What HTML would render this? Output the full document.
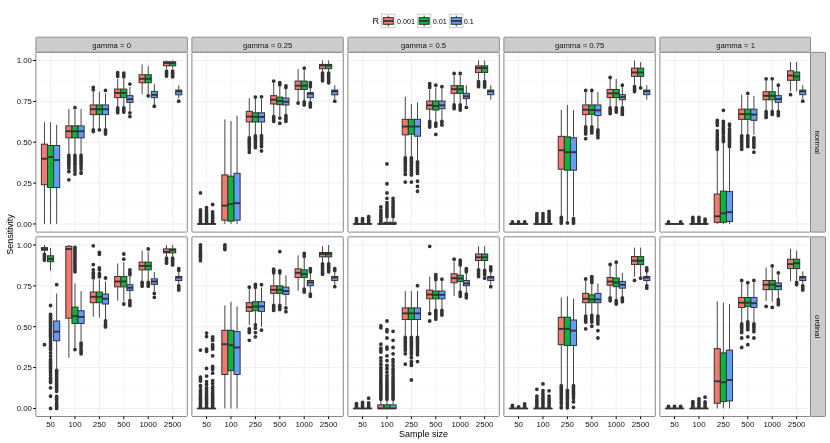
<!DOCTYPE html>
<html><head><meta charset="utf-8"><title>Sensitivity by sample size</title>
<style>html,body{margin:0;padding:0;background:#fff}svg{display:block}</style></head>
<body>
<svg width="830" height="443" viewBox="0 0 830 443" font-family="Liberation Sans, Arial, sans-serif">
<rect width="830" height="443" fill="#fff"/>
<g id="legend">
<text x="372.6" y="24.2" font-size="9" fill="#000">R</text>
<rect x="381.54999999999995" y="14.25" width="13.4" height="13.4" fill="#fff" stroke="#ccc" stroke-width="1"/>
<path d="M388.25 15.59V26.31" stroke="#333333" stroke-width="1" fill="none"/>
<rect x="383.22" y="17.6" width="10.05" height="6.7" fill="#F8766D" stroke="#333333" stroke-width="1"/>
<path d="M383.22 20.95H393.27" stroke="#333333" stroke-width="1.7" fill="none"/>
<text x="397.0" y="23.6" font-size="7.2" fill="#000">0.001</text>
<rect x="417.45" y="14.25" width="13.4" height="13.4" fill="#fff" stroke="#ccc" stroke-width="1"/>
<path d="M424.15 15.59V26.31" stroke="#333333" stroke-width="1" fill="none"/>
<rect x="419.12" y="17.6" width="10.05" height="6.7" fill="#00BA38" stroke="#333333" stroke-width="1"/>
<path d="M419.12 20.95H429.18" stroke="#333333" stroke-width="1.7" fill="none"/>
<text x="432.7" y="23.6" font-size="7.2" fill="#000">0.01</text>
<rect x="449.54999999999995" y="14.25" width="13.4" height="13.4" fill="#fff" stroke="#ccc" stroke-width="1"/>
<path d="M456.25 15.59V26.31" stroke="#333333" stroke-width="1" fill="none"/>
<rect x="451.22" y="17.6" width="10.05" height="6.7" fill="#619CFF" stroke="#333333" stroke-width="1"/>
<path d="M451.22 20.95H461.27" stroke="#333333" stroke-width="1.7" fill="none"/>
<text x="463.8" y="23.6" font-size="7.2" fill="#000">0.1</text>
</g>
<rect x="35.9" y="37.2" width="151.4" height="15.15" fill="#ccc" stroke="#8c8c8c" stroke-width="1" rx="0.8"/>
<text x="111.6" y="47.68" font-size="7.7" text-anchor="middle" fill="#111">gamma = 0</text>
<rect x="191.9" y="37.2" width="151.4" height="15.15" fill="#ccc" stroke="#8c8c8c" stroke-width="1" rx="0.8"/>
<text x="267.6" y="47.68" font-size="7.7" text-anchor="middle" fill="#111">gamma = 0.25</text>
<rect x="347.9" y="37.2" width="151.4" height="15.15" fill="#ccc" stroke="#8c8c8c" stroke-width="1" rx="0.8"/>
<text x="423.6" y="47.68" font-size="7.7" text-anchor="middle" fill="#111">gamma = 0.5</text>
<rect x="503.9" y="37.2" width="151.4" height="15.15" fill="#ccc" stroke="#8c8c8c" stroke-width="1" rx="0.8"/>
<text x="579.6" y="47.68" font-size="7.7" text-anchor="middle" fill="#111">gamma = 0.75</text>
<rect x="659.9" y="37.2" width="150.6" height="15.15" fill="#ccc" stroke="#8c8c8c" stroke-width="1" rx="0.8"/>
<text x="735.6" y="47.68" font-size="7.7" text-anchor="middle" fill="#111">gamma = 1</text>
<rect x="810.5" y="52.35" width="15" height="179.75" fill="#ccc" stroke="#8c8c8c" stroke-width="1" rx="0.8"/>
<text transform="translate(815 142.22) rotate(90)" font-size="7.7" text-anchor="middle" fill="#111">normal</text>
<rect x="810.5" y="236.8" width="15" height="179.7" fill="#ccc" stroke="#8c8c8c" stroke-width="1" rx="0.8"/>
<text transform="translate(815 326.65) rotate(90)" font-size="7.7" text-anchor="middle" fill="#111">ordinal</text>
<g>
<rect x="35.9" y="52.35" width="151.4" height="179.75" fill="#fff"/>
<path d="M35.9 203.52H187.3M35.9 162.66H187.3M35.9 121.79H187.3M35.9 80.93H187.3" stroke="#f7f7f7" stroke-width="0.6" fill="none"/>
<path d="M35.9 223.95H187.3M35.9 183.09H187.3M35.9 142.22H187.3M35.9 101.36H187.3M35.9 60.5H187.3M50.55 52.35V232.1M74.97 52.35V232.1M99.39 52.35V232.1M123.81 52.35V232.1M148.23 52.35V232.1M172.65 52.35V232.1" stroke="#e8e8e8" stroke-width="0.6" fill="none"/>
<path d="M44.45 122.28V144.19M44.45 184.72V223.95" stroke="#3c3c3c" stroke-width="0.95" fill="none"/>
<rect x="41.39" y="144.19" width="6.1" height="40.54" fill="#F8766D" stroke="#333333" stroke-width="1"/>
<path d="M41.39 158.73H47.5" stroke="#333333" stroke-width="1.9" fill="none"/>
<path d="M50.55 122.28V145.49M50.55 187.5V223.95" stroke="#3c3c3c" stroke-width="0.95" fill="none"/>
<rect x="47.5" y="145.49" width="6.1" height="42.01" fill="#00BA38" stroke="#333333" stroke-width="1"/>
<path d="M47.5 157.1H53.6" stroke="#333333" stroke-width="1.9" fill="none"/>
<path d="M56.66 124.74V145.49M56.66 187.5V223.95" stroke="#3c3c3c" stroke-width="0.95" fill="none"/>
<rect x="53.6" y="145.49" width="6.1" height="42.01" fill="#619CFF" stroke="#333333" stroke-width="1"/>
<path d="M53.6 160.04H59.71" stroke="#333333" stroke-width="1.9" fill="none"/>
<path d="M68.87 155.3h0M68.87 156.28h0M68.87 157.26h0M68.87 158.24h0M68.87 159.22h0M68.87 160.2h0M68.87 161.19h0M68.87 162.17h0M68.87 163.15h0M68.87 164.13h0M68.87 166.09h0M68.87 168.05h0M68.87 171.32h0M68.87 171.65h0M68.87 179.82h0" stroke="#333333" stroke-width="3.8" stroke-linecap="round" fill="none"/>
<path d="M68.87 108.88V125.88M68.87 137.81V154.16" stroke="#3c3c3c" stroke-width="0.95" fill="none"/>
<rect x="65.81" y="125.88" width="6.1" height="11.93" fill="#F8766D" stroke="#333333" stroke-width="1"/>
<path d="M65.81 131.27H71.92" stroke="#333333" stroke-width="1.9" fill="none"/>
<path d="M74.97 107.57h0M74.97 155.3h0M74.97 156.28h0M74.97 157.26h0M74.97 158.24h0M74.97 159.22h0M74.97 160.2h0M74.97 161.19h0M74.97 162.17h0M74.97 163.15h0M74.97 164.13h0M74.97 165.11h0M74.97 167.07h0M74.97 169.03h0M74.97 170.99h0M74.97 174.1h0" stroke="#333333" stroke-width="3.8" stroke-linecap="round" fill="none"/>
<path d="M74.97 109.54V125.88M74.97 137.81V154.16" stroke="#3c3c3c" stroke-width="0.95" fill="none"/>
<rect x="71.92" y="125.88" width="6.1" height="11.93" fill="#00BA38" stroke="#333333" stroke-width="1"/>
<path d="M71.92 131.27H78.02" stroke="#333333" stroke-width="1.9" fill="none"/>
<path d="M81.08 155.3h0M81.08 156.28h0M81.08 157.26h0M81.08 158.24h0M81.08 159.22h0M81.08 160.2h0M81.08 161.19h0M81.08 162.17h0M81.08 163.15h0M81.08 164.13h0M81.08 165.11h0M81.08 167.07h0M81.08 169.03h0M81.08 172.3h0M81.08 173.28h0" stroke="#333333" stroke-width="3.8" stroke-linecap="round" fill="none"/>
<path d="M81.08 108.88V125.88M81.08 137.81V154.16" stroke="#3c3c3c" stroke-width="0.95" fill="none"/>
<rect x="78.02" y="125.88" width="6.1" height="11.93" fill="#619CFF" stroke="#333333" stroke-width="1"/>
<path d="M78.02 131.27H84.13" stroke="#333333" stroke-width="1.9" fill="none"/>
<path d="M93.29 87.31h0M93.29 89.76h0M93.29 129.97h0M93.29 131.27h0M93.29 131.6h0" stroke="#333333" stroke-width="3.8" stroke-linecap="round" fill="none"/>
<path d="M93.29 91.56V104.96M93.29 114.6V128.33" stroke="#3c3c3c" stroke-width="0.95" fill="none"/>
<rect x="90.23" y="104.96" width="6.1" height="9.64" fill="#F8766D" stroke="#333333" stroke-width="1"/>
<path d="M90.23 109.21H96.34" stroke="#333333" stroke-width="1.9" fill="none"/>
<path d="M99.39 129.97h0" stroke="#333333" stroke-width="3.8" stroke-linecap="round" fill="none"/>
<path d="M99.39 92.05V104.96M99.39 114.6V128.33" stroke="#3c3c3c" stroke-width="0.95" fill="none"/>
<rect x="96.34" y="104.96" width="6.1" height="9.64" fill="#00BA38" stroke="#333333" stroke-width="1"/>
<path d="M96.34 109.21H102.44" stroke="#333333" stroke-width="1.9" fill="none"/>
<path d="M105.5 90.41h0M105.5 129.97h0M105.5 131.27h0M105.5 132.58h0M105.5 133.89h0M105.5 134.05h0" stroke="#333333" stroke-width="3.8" stroke-linecap="round" fill="none"/>
<path d="M105.5 93.19V104.96M105.5 114.6V128.33" stroke="#3c3c3c" stroke-width="0.95" fill="none"/>
<rect x="102.44" y="104.96" width="6.1" height="9.64" fill="#619CFF" stroke="#333333" stroke-width="1"/>
<path d="M102.44 109.21H108.55" stroke="#333333" stroke-width="1.9" fill="none"/>
<path d="M117.7 76.35h0M117.7 74.39h0M117.7 72.6h0M117.7 107.9h0M117.7 109.21h0M117.7 110.52h0M117.7 111.82h0M117.7 112.64h0" stroke="#333333" stroke-width="3.8" stroke-linecap="round" fill="none"/>
<path d="M117.7 78.81V89.1M117.7 97.6V106.76" stroke="#3c3c3c" stroke-width="0.95" fill="none"/>
<rect x="114.65" y="89.1" width="6.1" height="8.5" fill="#F8766D" stroke="#333333" stroke-width="1"/>
<path d="M114.65 92.86H120.76" stroke="#333333" stroke-width="1.9" fill="none"/>
<path d="M123.81 76.84h0M123.81 74.88h0M123.81 73.25h0M123.81 107.9h0M123.81 109.21h0M123.81 110.52h0M123.81 111.82h0M123.81 111.99h0" stroke="#333333" stroke-width="3.8" stroke-linecap="round" fill="none"/>
<path d="M123.81 78.81V89.1M123.81 97.6V106.76" stroke="#3c3c3c" stroke-width="0.95" fill="none"/>
<rect x="120.76" y="89.1" width="6.1" height="8.5" fill="#00BA38" stroke="#333333" stroke-width="1"/>
<path d="M120.76 92.86H126.86" stroke="#333333" stroke-width="1.9" fill="none"/>
<path d="M129.91 84.04h0M129.91 112.8h0M129.91 116.56h0" stroke="#333333" stroke-width="3.8" stroke-linecap="round" fill="none"/>
<path d="M129.91 86.98V95.64M129.91 102.51V110.68" stroke="#3c3c3c" stroke-width="0.95" fill="none"/>
<rect x="126.86" y="95.64" width="6.1" height="6.86" fill="#619CFF" stroke="#333333" stroke-width="1"/>
<path d="M126.86 99.24H132.97" stroke="#333333" stroke-width="1.9" fill="none"/>
<path d="M142.12 64.42V74.72M142.12 82.73V94.33" stroke="#3c3c3c" stroke-width="0.95" fill="none"/>
<rect x="139.07" y="74.72" width="6.1" height="8.01" fill="#F8766D" stroke="#333333" stroke-width="1"/>
<path d="M139.07 78.81H145.18" stroke="#333333" stroke-width="1.9" fill="none"/>
<path d="M148.23 95.81h0" stroke="#333333" stroke-width="3.8" stroke-linecap="round" fill="none"/>
<path d="M148.23 66.22V74.72M148.23 82.73V94.82" stroke="#3c3c3c" stroke-width="0.95" fill="none"/>
<rect x="145.18" y="74.72" width="6.1" height="8.01" fill="#00BA38" stroke="#333333" stroke-width="1"/>
<path d="M145.18 78.81H151.28" stroke="#333333" stroke-width="1.9" fill="none"/>
<path d="M154.33 106.27h0" stroke="#333333" stroke-width="3.8" stroke-linecap="round" fill="none"/>
<path d="M154.33 84.2V91.39M154.33 97.6V104.96" stroke="#3c3c3c" stroke-width="0.95" fill="none"/>
<rect x="151.28" y="91.39" width="6.1" height="6.21" fill="#619CFF" stroke="#333333" stroke-width="1"/>
<path d="M151.28 94.82H157.39" stroke="#333333" stroke-width="1.9" fill="none"/>
<path d="M166.54 71.12h0M166.54 72.43h0M166.54 73.74h0M166.54 75.05h0M166.54 76.03h0" stroke="#333333" stroke-width="3.8" stroke-linecap="round" fill="none"/>
<path d="M166.54 60.5V61.81M166.54 65.73V68.67" stroke="#3c3c3c" stroke-width="0.95" fill="none"/>
<rect x="163.49" y="61.81" width="6.1" height="3.92" fill="#F8766D" stroke="#333333" stroke-width="1"/>
<path d="M163.49 62.95H169.6" stroke="#333333" stroke-width="1.9" fill="none"/>
<path d="M172.65 71.12h0M172.65 72.43h0M172.65 73.74h0M172.65 75.05h0M172.65 76.35h0M172.65 76.84h0" stroke="#333333" stroke-width="3.8" stroke-linecap="round" fill="none"/>
<path d="M172.65 60.5V61.81M172.65 65.73V68.67" stroke="#3c3c3c" stroke-width="0.95" fill="none"/>
<rect x="169.6" y="61.81" width="6.1" height="3.92" fill="#00BA38" stroke="#333333" stroke-width="1"/>
<path d="M169.6 62.95H175.7" stroke="#333333" stroke-width="1.9" fill="none"/>
<path d="M178.75 101.2h0" stroke="#333333" stroke-width="3.8" stroke-linecap="round" fill="none"/>
<path d="M178.75 85.18V90.08M178.75 94.82V98.42" stroke="#3c3c3c" stroke-width="0.95" fill="none"/>
<rect x="175.7" y="90.08" width="6.1" height="4.74" fill="#619CFF" stroke="#333333" stroke-width="1"/>
<path d="M175.7 91.31H181.81" stroke="#333333" stroke-width="1.9" fill="none"/>
<rect x="35.9" y="52.35" width="151.4" height="179.75" fill="none" stroke="#888" stroke-width="1" rx="0.8"/>
</g>
<g>
<rect x="191.9" y="52.35" width="151.4" height="179.75" fill="#fff"/>
<path d="M191.9 203.52H343.3M191.9 162.66H343.3M191.9 121.79H343.3M191.9 80.93H343.3" stroke="#f7f7f7" stroke-width="0.6" fill="none"/>
<path d="M191.9 223.95H343.3M191.9 183.09H343.3M191.9 142.22H343.3M191.9 101.36H343.3M191.9 60.5H343.3M206.55 52.35V232.1M230.97 52.35V232.1M255.39 52.35V232.1M279.81 52.35V232.1M304.23 52.35V232.1M328.65 52.35V232.1" stroke="#e8e8e8" stroke-width="0.6" fill="none"/>
<path d="M200.45 221.99h0M200.45 221.01h0M200.45 220.03h0M200.45 219.05h0M200.45 218.07h0M200.45 217.09h0M200.45 216.1h0M200.45 215.12h0M200.45 213.16h0M200.45 211.2h0M200.45 209.89h0M200.45 192.89h0" stroke="#333333" stroke-width="3.8" stroke-linecap="round" fill="none"/>
<path d="M200.45 223.95V223.95M200.45 223.95V223.95" stroke="#3c3c3c" stroke-width="0.95" fill="none"/>
<rect x="197.39" y="223.95" width="6.1" height="0.01" fill="#F8766D" stroke="#333333" stroke-width="1"/>
<path d="M197.39 223.95H203.5" stroke="#333333" stroke-width="1.9" fill="none"/>
<path d="M206.55 221.99h0M206.55 221.01h0M206.55 220.03h0M206.55 219.05h0M206.55 218.07h0M206.55 217.09h0M206.55 216.1h0M206.55 215.12h0M206.55 214.14h0M206.55 212.18h0M206.55 210.22h0M206.55 207.6h0" stroke="#333333" stroke-width="3.8" stroke-linecap="round" fill="none"/>
<path d="M206.55 223.95V223.95M206.55 223.95V223.95" stroke="#3c3c3c" stroke-width="0.95" fill="none"/>
<rect x="203.5" y="223.95" width="6.1" height="0.01" fill="#00BA38" stroke="#333333" stroke-width="1"/>
<path d="M203.5 223.95H209.6" stroke="#333333" stroke-width="1.9" fill="none"/>
<path d="M212.66 221.99h0M212.66 221.01h0M212.66 220.03h0M212.66 219.05h0M212.66 218.07h0M212.66 217.09h0M212.66 216.1h0M212.66 214.14h0M212.66 211.85h0M212.66 204.5h0" stroke="#333333" stroke-width="3.8" stroke-linecap="round" fill="none"/>
<path d="M212.66 223.95V223.95M212.66 223.95V223.95" stroke="#3c3c3c" stroke-width="0.95" fill="none"/>
<rect x="209.6" y="223.95" width="6.1" height="0.01" fill="#619CFF" stroke="#333333" stroke-width="1"/>
<path d="M209.6 223.95H215.71" stroke="#333333" stroke-width="1.9" fill="none"/>
<path d="M224.87 119.34V174.91M224.87 220.19V223.95" stroke="#3c3c3c" stroke-width="0.95" fill="none"/>
<rect x="221.81" y="174.91" width="6.1" height="45.28" fill="#F8766D" stroke="#333333" stroke-width="1"/>
<path d="M221.81 205.64H227.92" stroke="#333333" stroke-width="1.9" fill="none"/>
<path d="M230.97 120.98V176.22M230.97 221.17V223.95" stroke="#3c3c3c" stroke-width="0.95" fill="none"/>
<rect x="227.92" y="176.22" width="6.1" height="44.95" fill="#00BA38" stroke="#333333" stroke-width="1"/>
<path d="M227.92 204.17H234.02" stroke="#333333" stroke-width="1.9" fill="none"/>
<path d="M237.08 115.58V173.28M237.08 220.19V223.95" stroke="#3c3c3c" stroke-width="0.95" fill="none"/>
<rect x="234.02" y="173.28" width="6.1" height="46.91" fill="#619CFF" stroke="#333333" stroke-width="1"/>
<path d="M234.02 203.19H240.13" stroke="#333333" stroke-width="1.9" fill="none"/>
<path d="M249.29 137.81h0M249.29 138.79h0M249.29 139.77h0M249.29 140.75h0M249.29 141.73h0M249.29 142.72h0M249.29 143.7h0M249.29 144.68h0M249.29 145.66h0M249.29 147.62h0M249.29 149.58h0M249.29 152.36h0" stroke="#333333" stroke-width="3.8" stroke-linecap="round" fill="none"/>
<path d="M249.29 98.09V111.33M249.29 121.96V136.91" stroke="#3c3c3c" stroke-width="0.95" fill="none"/>
<rect x="246.23" y="111.33" width="6.1" height="10.62" fill="#F8766D" stroke="#333333" stroke-width="1"/>
<path d="M246.23 116.56H252.34" stroke="#333333" stroke-width="1.9" fill="none"/>
<path d="M255.39 97.11h0M255.39 136.01h0M255.39 136.99h0M255.39 137.98h0M255.39 138.96h0M255.39 139.94h0M255.39 140.92h0M255.39 141.9h0M255.39 143.86h0M255.39 145.82h0M255.39 147.62h0" stroke="#333333" stroke-width="3.8" stroke-linecap="round" fill="none"/>
<path d="M255.39 98.91V112.8M255.39 121.96V135.03" stroke="#3c3c3c" stroke-width="0.95" fill="none"/>
<rect x="252.34" y="112.8" width="6.1" height="9.15" fill="#00BA38" stroke="#333333" stroke-width="1"/>
<path d="M252.34 116.89H258.44" stroke="#333333" stroke-width="1.9" fill="none"/>
<path d="M261.5 96.79h0M261.5 135.69h0M261.5 136.67h0M261.5 137.65h0M261.5 138.63h0M261.5 139.61h0M261.5 140.59h0M261.5 141.57h0M261.5 143.53h0M261.5 145.49h0M261.5 146.64h0M261.5 150.89h0" stroke="#333333" stroke-width="3.8" stroke-linecap="round" fill="none"/>
<path d="M261.5 98.91V112.8M261.5 121.96V135.03" stroke="#3c3c3c" stroke-width="0.95" fill="none"/>
<rect x="258.44" y="112.8" width="6.1" height="9.15" fill="#619CFF" stroke="#333333" stroke-width="1"/>
<path d="M258.44 116.89H264.55" stroke="#333333" stroke-width="1.9" fill="none"/>
<path d="M273.7 81.09h0M273.7 116.56h0M273.7 117.87h0M273.7 119.18h0M273.7 120.49h0M273.7 121.3h0" stroke="#333333" stroke-width="3.8" stroke-linecap="round" fill="none"/>
<path d="M273.7 83.06V95.64M273.7 103.98V115.26" stroke="#3c3c3c" stroke-width="0.95" fill="none"/>
<rect x="270.65" y="95.64" width="6.1" height="8.34" fill="#F8766D" stroke="#333333" stroke-width="1"/>
<path d="M270.65 99.73H276.76" stroke="#333333" stroke-width="1.9" fill="none"/>
<path d="M279.81 84.69h0M279.81 83.38h0M279.81 82.73h0M279.81 118.03h0M279.81 123.26h0" stroke="#333333" stroke-width="3.8" stroke-linecap="round" fill="none"/>
<path d="M279.81 85.83V97.11M279.81 104.63V116.07" stroke="#3c3c3c" stroke-width="0.95" fill="none"/>
<rect x="276.76" y="97.11" width="6.1" height="7.52" fill="#00BA38" stroke="#333333" stroke-width="1"/>
<path d="M276.76 101.04H282.86" stroke="#333333" stroke-width="1.9" fill="none"/>
<path d="M285.91 87.47h0M285.91 86.16h0M285.91 85.83h0M285.91 115.58h0M285.91 116.89h0M285.91 118.2h0M285.91 119.51h0M285.91 120.81h0M285.91 121.3h0" stroke="#333333" stroke-width="3.8" stroke-linecap="round" fill="none"/>
<path d="M285.91 88.61V98.09M285.91 104.96V114.44" stroke="#3c3c3c" stroke-width="0.95" fill="none"/>
<rect x="282.86" y="98.09" width="6.1" height="6.86" fill="#619CFF" stroke="#333333" stroke-width="1"/>
<path d="M282.86 101.69H288.97" stroke="#333333" stroke-width="1.9" fill="none"/>
<path d="M298.12 103h0" stroke="#333333" stroke-width="3.8" stroke-linecap="round" fill="none"/>
<path d="M298.12 69.16V81.09M298.12 89.43V101.04" stroke="#3c3c3c" stroke-width="0.95" fill="none"/>
<rect x="295.07" y="81.09" width="6.1" height="8.34" fill="#F8766D" stroke="#333333" stroke-width="1"/>
<path d="M295.07 85.67H301.18" stroke="#333333" stroke-width="1.9" fill="none"/>
<path d="M304.23 68.18h0M304.23 102.02h0M304.23 103.32h0M304.23 104.63h0M304.23 104.96h0" stroke="#333333" stroke-width="3.8" stroke-linecap="round" fill="none"/>
<path d="M304.23 70.31V81.09M304.23 89.43V101.04" stroke="#3c3c3c" stroke-width="0.95" fill="none"/>
<rect x="301.18" y="81.09" width="6.1" height="8.34" fill="#00BA38" stroke="#333333" stroke-width="1"/>
<path d="M301.18 85.67H307.28" stroke="#333333" stroke-width="1.9" fill="none"/>
<path d="M310.33 86.65h0M310.33 85.34h0M310.33 84.04h0M310.33 82.73h0M310.33 82.73h0M310.33 103h0M310.33 104.3h0M310.33 105.61h0M310.33 106.92h0M310.33 106.92h0" stroke="#333333" stroke-width="3.8" stroke-linecap="round" fill="none"/>
<path d="M310.33 88.29V92.7M310.33 97.6V102.18" stroke="#3c3c3c" stroke-width="0.95" fill="none"/>
<rect x="307.28" y="92.7" width="6.1" height="4.9" fill="#619CFF" stroke="#333333" stroke-width="1"/>
<path d="M307.28 93.68H313.39" stroke="#333333" stroke-width="1.9" fill="none"/>
<path d="M322.54 73.09h0M322.54 74.07h0M322.54 75.05h0M322.54 76.03h0M322.54 77.01h0M322.54 78.97h0M322.54 80.77h0" stroke="#333333" stroke-width="3.8" stroke-linecap="round" fill="none"/>
<path d="M322.54 60.5V64.42M322.54 68.67V71.94" stroke="#3c3c3c" stroke-width="0.95" fill="none"/>
<rect x="319.49" y="64.42" width="6.1" height="4.25" fill="#F8766D" stroke="#333333" stroke-width="1"/>
<path d="M319.49 65.4H325.6" stroke="#333333" stroke-width="1.9" fill="none"/>
<path d="M328.65 73.09h0M328.65 74.07h0M328.65 75.05h0M328.65 76.03h0M328.65 77.01h0M328.65 77.99h0M328.65 79.95h0M328.65 81.91h0M328.65 82.73h0" stroke="#333333" stroke-width="3.8" stroke-linecap="round" fill="none"/>
<path d="M328.65 60.5V64.42M328.65 68.67V71.94" stroke="#3c3c3c" stroke-width="0.95" fill="none"/>
<rect x="325.6" y="64.42" width="6.1" height="4.25" fill="#00BA38" stroke="#333333" stroke-width="1"/>
<path d="M325.6 65.4H331.7" stroke="#333333" stroke-width="1.9" fill="none"/>
<path d="M334.75 101.2h0" stroke="#333333" stroke-width="3.8" stroke-linecap="round" fill="none"/>
<path d="M334.75 85.18V90.08M334.75 94.82V98.91" stroke="#3c3c3c" stroke-width="0.95" fill="none"/>
<rect x="331.7" y="90.08" width="6.1" height="4.74" fill="#619CFF" stroke="#333333" stroke-width="1"/>
<path d="M331.7 91.31H337.81" stroke="#333333" stroke-width="1.9" fill="none"/>
<rect x="191.9" y="52.35" width="151.4" height="179.75" fill="none" stroke="#888" stroke-width="1" rx="0.8"/>
</g>
<g>
<rect x="347.9" y="52.35" width="151.4" height="179.75" fill="#fff"/>
<path d="M347.9 203.52H499.3M347.9 162.66H499.3M347.9 121.79H499.3M347.9 80.93H499.3" stroke="#f7f7f7" stroke-width="0.6" fill="none"/>
<path d="M347.9 223.95H499.3M347.9 183.09H499.3M347.9 142.22H499.3M347.9 101.36H499.3M347.9 60.5H499.3M362.55 52.35V232.1M386.97 52.35V232.1M411.39 52.35V232.1M435.81 52.35V232.1M460.23 52.35V232.1M484.65 52.35V232.1" stroke="#e8e8e8" stroke-width="0.6" fill="none"/>
<path d="M356.45 221.99h0M356.45 220.68h0M356.45 219.37h0M356.45 218.56h0" stroke="#333333" stroke-width="3.8" stroke-linecap="round" fill="none"/>
<path d="M356.45 223.95V223.95M356.45 223.95V223.95" stroke="#3c3c3c" stroke-width="0.95" fill="none"/>
<rect x="353.39" y="223.95" width="6.1" height="0.01" fill="#F8766D" stroke="#333333" stroke-width="1"/>
<path d="M353.39 223.95H359.5" stroke="#333333" stroke-width="1.9" fill="none"/>
<path d="M362.55 221.99h0M362.55 220.68h0M362.55 219.37h0M362.55 218.56h0" stroke="#333333" stroke-width="3.8" stroke-linecap="round" fill="none"/>
<path d="M362.55 223.95V223.95M362.55 223.95V223.95" stroke="#3c3c3c" stroke-width="0.95" fill="none"/>
<rect x="359.5" y="223.95" width="6.1" height="0.01" fill="#00BA38" stroke="#333333" stroke-width="1"/>
<path d="M359.5 223.95H365.6" stroke="#333333" stroke-width="1.9" fill="none"/>
<path d="M368.66 221.99h0M368.66 220.68h0M368.66 219.37h0M368.66 218.07h0M368.66 216.76h0M368.66 216.59h0" stroke="#333333" stroke-width="3.8" stroke-linecap="round" fill="none"/>
<path d="M368.66 223.95V223.95M368.66 223.95V223.95" stroke="#3c3c3c" stroke-width="0.95" fill="none"/>
<rect x="365.6" y="223.95" width="6.1" height="0.01" fill="#619CFF" stroke="#333333" stroke-width="1"/>
<path d="M365.6 223.95H371.71" stroke="#333333" stroke-width="1.9" fill="none"/>
<path d="M380.87 221.99h0M380.87 221.01h0M380.87 220.03h0M380.87 219.05h0M380.87 218.07h0M380.87 217.09h0M380.87 216.1h0M380.87 215.12h0M380.87 214.14h0M380.87 212.18h0M380.87 210.22h0M380.87 206.95h0" stroke="#333333" stroke-width="3.8" stroke-linecap="round" fill="none"/>
<path d="M380.87 223.95V223.95M380.87 223.95V223.95" stroke="#3c3c3c" stroke-width="0.95" fill="none"/>
<rect x="377.81" y="223.95" width="6.1" height="0.01" fill="#F8766D" stroke="#333333" stroke-width="1"/>
<path d="M377.81 223.95H383.92" stroke="#333333" stroke-width="1.9" fill="none"/>
<path d="M386.97 216.59h0M386.97 215.61h0M386.97 214.63h0M386.97 213.65h0M386.97 212.67h0M386.97 211.69h0M386.97 210.71h0M386.97 209.73h0M386.97 208.75h0M386.97 206.79h0M386.97 204.83h0M386.97 202.7h0M386.97 198.29h0M386.97 192.89h0M386.97 183.74h0M386.97 163.96h0" stroke="#333333" stroke-width="3.8" stroke-linecap="round" fill="none"/>
<path d="M386.97 217.41V222.32M386.97 223.95V223.95" stroke="#3c3c3c" stroke-width="0.95" fill="none"/>
<rect x="383.92" y="222.32" width="6.1" height="1.63" fill="#00BA38" stroke="#333333" stroke-width="1"/>
<path d="M383.92 223.95H390.02" stroke="#333333" stroke-width="1.9" fill="none"/>
<path d="M393.08 216.59h0M393.08 215.61h0M393.08 214.63h0M393.08 213.65h0M393.08 212.67h0M393.08 211.69h0M393.08 210.71h0M393.08 209.73h0M393.08 208.75h0M393.08 207.77h0M393.08 206.79h0M393.08 204.83h0M393.08 202.86h0M393.08 200.9h0M393.08 198.29h0" stroke="#333333" stroke-width="3.8" stroke-linecap="round" fill="none"/>
<path d="M393.08 217.41V222.32M393.08 223.95V223.95" stroke="#3c3c3c" stroke-width="0.95" fill="none"/>
<rect x="390.02" y="222.32" width="6.1" height="1.63" fill="#619CFF" stroke="#333333" stroke-width="1"/>
<path d="M390.02 223.95H396.13" stroke="#333333" stroke-width="1.9" fill="none"/>
<path d="M405.29 157.92h0M405.29 158.9h0M405.29 159.88h0M405.29 160.86h0M405.29 161.84h0M405.29 162.82h0M405.29 163.8h0M405.29 164.78h0M405.29 165.76h0M405.29 166.74h0M405.29 168.7h0M405.29 170.67h0M405.29 173.93h0M405.29 174.42h0M405.29 182.11h0" stroke="#333333" stroke-width="3.8" stroke-linecap="round" fill="none"/>
<path d="M405.29 96.79V119.34M405.29 134.87V156.94" stroke="#3c3c3c" stroke-width="0.95" fill="none"/>
<rect x="402.23" y="119.34" width="6.1" height="15.53" fill="#F8766D" stroke="#333333" stroke-width="1"/>
<path d="M402.23 126.53H408.34" stroke="#333333" stroke-width="1.9" fill="none"/>
<path d="M411.39 157.92h0M411.39 158.9h0M411.39 159.88h0M411.39 160.86h0M411.39 161.84h0M411.39 162.82h0M411.39 163.8h0M411.39 164.78h0M411.39 165.76h0M411.39 166.74h0M411.39 168.7h0M411.39 170.67h0M411.39 172.63h0M411.39 174.91h0M411.39 182.11h0" stroke="#333333" stroke-width="3.8" stroke-linecap="round" fill="none"/>
<path d="M411.39 103.98V119.34M411.39 134.22V156.94" stroke="#3c3c3c" stroke-width="0.95" fill="none"/>
<rect x="408.34" y="119.34" width="6.1" height="14.87" fill="#00BA38" stroke="#333333" stroke-width="1"/>
<path d="M408.34 126.53H414.44" stroke="#333333" stroke-width="1.9" fill="none"/>
<path d="M417.5 161.84h0M417.5 162.82h0M417.5 163.8h0M417.5 164.78h0M417.5 165.76h0M417.5 166.74h0M417.5 167.72h0M417.5 169.68h0M417.5 171.65h0M417.5 173.44h0M417.5 181.13h0M417.5 186.36h0M417.5 191.26h0" stroke="#333333" stroke-width="3.8" stroke-linecap="round" fill="none"/>
<path d="M417.5 102.34V119.34M417.5 136.18V160.86" stroke="#3c3c3c" stroke-width="0.95" fill="none"/>
<rect x="414.44" y="119.34" width="6.1" height="16.84" fill="#619CFF" stroke="#333333" stroke-width="1"/>
<path d="M414.44 126.53H420.55" stroke="#333333" stroke-width="1.9" fill="none"/>
<path d="M429.7 87.47h0M429.7 86.16h0M429.7 84.85h0M429.7 83.71h0M429.7 121.3h0M429.7 122.61h0M429.7 123.92h0M429.7 125.23h0M429.7 126.53h0M429.7 127.02h0" stroke="#333333" stroke-width="3.8" stroke-linecap="round" fill="none"/>
<path d="M429.7 89.43V101.04M429.7 109.21V120.32" stroke="#3c3c3c" stroke-width="0.95" fill="none"/>
<rect x="426.65" y="101.04" width="6.1" height="8.17" fill="#F8766D" stroke="#333333" stroke-width="1"/>
<path d="M426.65 105.29H432.76" stroke="#333333" stroke-width="1.9" fill="none"/>
<path d="M435.81 85.18h0M435.81 123.26h0M435.81 124.57h0M435.81 125.88h0M435.81 126.21h0M435.81 134.38h0" stroke="#333333" stroke-width="3.8" stroke-linecap="round" fill="none"/>
<path d="M435.81 87.47V101.04M435.81 110.03V122.28" stroke="#3c3c3c" stroke-width="0.95" fill="none"/>
<rect x="432.76" y="101.04" width="6.1" height="8.99" fill="#00BA38" stroke="#333333" stroke-width="1"/>
<path d="M432.76 105.94H438.86" stroke="#333333" stroke-width="1.9" fill="none"/>
<path d="M441.91 86.65h0M441.91 121.3h0M441.91 122.61h0M441.91 123.92h0M441.91 125.06h0" stroke="#333333" stroke-width="3.8" stroke-linecap="round" fill="none"/>
<path d="M441.91 88.29V101.04M441.91 108.72V120.32" stroke="#3c3c3c" stroke-width="0.95" fill="none"/>
<rect x="438.86" y="101.04" width="6.1" height="7.68" fill="#619CFF" stroke="#333333" stroke-width="1"/>
<path d="M438.86 105.29H444.97" stroke="#333333" stroke-width="1.9" fill="none"/>
<path d="M454.12 73.41h0M454.12 104.96h0M454.12 106.27h0M454.12 107.57h0M454.12 108.72h0" stroke="#333333" stroke-width="3.8" stroke-linecap="round" fill="none"/>
<path d="M454.12 75.21V85.67M454.12 93.35V103.98" stroke="#3c3c3c" stroke-width="0.95" fill="none"/>
<rect x="451.07" y="85.67" width="6.1" height="7.68" fill="#F8766D" stroke="#333333" stroke-width="1"/>
<path d="M451.07 89.1H457.18" stroke="#333333" stroke-width="1.9" fill="none"/>
<path d="M460.23 73.41h0M460.23 104.96h0M460.23 106.27h0M460.23 107.57h0M460.23 108.88h0M460.23 110.03h0" stroke="#333333" stroke-width="3.8" stroke-linecap="round" fill="none"/>
<path d="M460.23 75.21V85.67M460.23 93.35V103.98" stroke="#3c3c3c" stroke-width="0.95" fill="none"/>
<rect x="457.18" y="85.67" width="6.1" height="7.68" fill="#00BA38" stroke="#333333" stroke-width="1"/>
<path d="M457.18 89.1H463.28" stroke="#333333" stroke-width="1.9" fill="none"/>
<path d="M466.33 107.41h0" stroke="#333333" stroke-width="3.8" stroke-linecap="round" fill="none"/>
<path d="M466.33 85.18V93.35M466.33 98.58V104.96" stroke="#3c3c3c" stroke-width="0.95" fill="none"/>
<rect x="463.28" y="93.35" width="6.1" height="5.23" fill="#619CFF" stroke="#333333" stroke-width="1"/>
<path d="M463.28 96.3H469.39" stroke="#333333" stroke-width="1.9" fill="none"/>
<path d="M478.54 81.75h0M478.54 83.06h0M478.54 84.36h0M478.54 85.67h0M478.54 86.65h0" stroke="#333333" stroke-width="3.8" stroke-linecap="round" fill="none"/>
<path d="M478.54 60.5V65.89M478.54 72.43V79.79" stroke="#3c3c3c" stroke-width="0.95" fill="none"/>
<rect x="475.49" y="65.89" width="6.1" height="6.54" fill="#F8766D" stroke="#333333" stroke-width="1"/>
<path d="M475.49 68.02H481.6" stroke="#333333" stroke-width="1.9" fill="none"/>
<path d="M484.65 81.75h0M484.65 83.06h0M484.65 84.36h0M484.65 85.67h0M484.65 86.98h0M484.65 86.98h0" stroke="#333333" stroke-width="3.8" stroke-linecap="round" fill="none"/>
<path d="M484.65 60.5V65.89M484.65 72.43V79.79" stroke="#3c3c3c" stroke-width="0.95" fill="none"/>
<rect x="481.6" y="65.89" width="6.1" height="6.54" fill="#00BA38" stroke="#333333" stroke-width="1"/>
<path d="M481.6 68.02H487.7" stroke="#333333" stroke-width="1.9" fill="none"/>
<path d="M490.75 85.18V90.08M490.75 94.66V99.73" stroke="#3c3c3c" stroke-width="0.95" fill="none"/>
<rect x="487.7" y="90.08" width="6.1" height="4.58" fill="#619CFF" stroke="#333333" stroke-width="1"/>
<path d="M487.7 91.31H493.81" stroke="#333333" stroke-width="1.9" fill="none"/>
<rect x="347.9" y="52.35" width="151.4" height="179.75" fill="none" stroke="#888" stroke-width="1" rx="0.8"/>
</g>
<g>
<rect x="503.9" y="52.35" width="151.4" height="179.75" fill="#fff"/>
<path d="M503.9 203.52H655.3M503.9 162.66H655.3M503.9 121.79H655.3M503.9 80.93H655.3" stroke="#f7f7f7" stroke-width="0.6" fill="none"/>
<path d="M503.9 223.95H655.3M503.9 183.09H655.3M503.9 142.22H655.3M503.9 101.36H655.3M503.9 60.5H655.3M518.55 52.35V232.1M542.97 52.35V232.1M567.39 52.35V232.1M591.81 52.35V232.1M616.23 52.35V232.1M640.65 52.35V232.1" stroke="#e8e8e8" stroke-width="0.6" fill="none"/>
<path d="M512.45 221.99h0" stroke="#333333" stroke-width="3.8" stroke-linecap="round" fill="none"/>
<path d="M512.45 223.95V223.95M512.45 223.95V223.95" stroke="#3c3c3c" stroke-width="0.95" fill="none"/>
<rect x="509.39" y="223.95" width="6.1" height="0.01" fill="#F8766D" stroke="#333333" stroke-width="1"/>
<path d="M509.39 223.95H515.5" stroke="#333333" stroke-width="1.9" fill="none"/>
<path d="M518.55 221.99h0" stroke="#333333" stroke-width="3.8" stroke-linecap="round" fill="none"/>
<path d="M518.55 223.95V223.95M518.55 223.95V223.95" stroke="#3c3c3c" stroke-width="0.95" fill="none"/>
<rect x="515.5" y="223.95" width="6.1" height="0.01" fill="#00BA38" stroke="#333333" stroke-width="1"/>
<path d="M515.5 223.95H521.6" stroke="#333333" stroke-width="1.9" fill="none"/>
<path d="M524.66 221.99h0" stroke="#333333" stroke-width="3.8" stroke-linecap="round" fill="none"/>
<path d="M524.66 223.95V223.95M524.66 223.95V223.95" stroke="#3c3c3c" stroke-width="0.95" fill="none"/>
<rect x="521.6" y="223.95" width="6.1" height="0.01" fill="#619CFF" stroke="#333333" stroke-width="1"/>
<path d="M521.6 223.95H527.71" stroke="#333333" stroke-width="1.9" fill="none"/>
<path d="M536.87 221.99h0M536.87 221.01h0M536.87 220.03h0M536.87 219.05h0M536.87 218.07h0M536.87 217.09h0M536.87 215.12h0M536.87 213.65h0" stroke="#333333" stroke-width="3.8" stroke-linecap="round" fill="none"/>
<path d="M536.87 223.95V223.95M536.87 223.95V223.95" stroke="#3c3c3c" stroke-width="0.95" fill="none"/>
<rect x="533.81" y="223.95" width="6.1" height="0.01" fill="#F8766D" stroke="#333333" stroke-width="1"/>
<path d="M533.81 223.95H539.92" stroke="#333333" stroke-width="1.9" fill="none"/>
<path d="M542.97 221.99h0M542.97 221.01h0M542.97 220.03h0M542.97 219.05h0M542.97 218.07h0M542.97 217.09h0M542.97 215.12h0M542.97 213.65h0" stroke="#333333" stroke-width="3.8" stroke-linecap="round" fill="none"/>
<path d="M542.97 223.95V223.95M542.97 223.95V223.95" stroke="#3c3c3c" stroke-width="0.95" fill="none"/>
<rect x="539.92" y="223.95" width="6.1" height="0.01" fill="#00BA38" stroke="#333333" stroke-width="1"/>
<path d="M539.92 223.95H546.02" stroke="#333333" stroke-width="1.9" fill="none"/>
<path d="M549.08 221.99h0M549.08 221.01h0M549.08 220.03h0M549.08 219.05h0M549.08 218.07h0M549.08 217.09h0M549.08 216.1h0M549.08 214.14h0M549.08 212.18h0M549.08 211.36h0" stroke="#333333" stroke-width="3.8" stroke-linecap="round" fill="none"/>
<path d="M549.08 223.95V223.95M549.08 223.95V223.95" stroke="#3c3c3c" stroke-width="0.95" fill="none"/>
<rect x="546.02" y="223.95" width="6.1" height="0.01" fill="#619CFF" stroke="#333333" stroke-width="1"/>
<path d="M546.02 223.95H552.13" stroke="#333333" stroke-width="1.9" fill="none"/>
<path d="M561.29 217.41h0M561.29 218.72h0M561.29 220.03h0M561.29 221.33h0M561.29 222.64h0M561.29 223.13h0" stroke="#333333" stroke-width="3.8" stroke-linecap="round" fill="none"/>
<path d="M561.29 110.03V136.34M561.29 169.19V216.59" stroke="#3c3c3c" stroke-width="0.95" fill="none"/>
<rect x="558.23" y="136.34" width="6.1" height="32.85" fill="#F8766D" stroke="#333333" stroke-width="1"/>
<path d="M558.23 150.23H564.34" stroke="#333333" stroke-width="1.9" fill="none"/>
<path d="M567.39 222.97h0" stroke="#333333" stroke-width="3.8" stroke-linecap="round" fill="none"/>
<path d="M567.39 104.96V136.83M567.39 170.17V220.68" stroke="#3c3c3c" stroke-width="0.95" fill="none"/>
<rect x="564.34" y="136.83" width="6.1" height="33.34" fill="#00BA38" stroke="#333333" stroke-width="1"/>
<path d="M564.34 152.2H570.44" stroke="#333333" stroke-width="1.9" fill="none"/>
<path d="M573.5 218.56h0M573.5 219.86h0M573.5 221.17h0M573.5 222.48h0M573.5 223.13h0" stroke="#333333" stroke-width="3.8" stroke-linecap="round" fill="none"/>
<path d="M573.5 110.03V137.81M573.5 170.17V216.59" stroke="#3c3c3c" stroke-width="0.95" fill="none"/>
<rect x="570.44" y="137.81" width="6.1" height="32.36" fill="#619CFF" stroke="#333333" stroke-width="1"/>
<path d="M570.44 152.2H576.55" stroke="#333333" stroke-width="1.9" fill="none"/>
<path d="M585.7 90.41h0M585.7 127.02h0M585.7 128h0M585.7 128.99h0M585.7 129.97h0M585.7 130.95h0M585.7 132.91h0M585.7 133.89h0M585.7 138.63h0" stroke="#333333" stroke-width="3.8" stroke-linecap="round" fill="none"/>
<path d="M585.7 92.05V104.96M585.7 114.6V125.88" stroke="#3c3c3c" stroke-width="0.95" fill="none"/>
<rect x="582.65" y="104.96" width="6.1" height="9.64" fill="#F8766D" stroke="#333333" stroke-width="1"/>
<path d="M582.65 109.7H588.76" stroke="#333333" stroke-width="1.9" fill="none"/>
<path d="M591.81 90.41h0M591.81 127.02h0M591.81 128.33h0M591.81 129.64h0M591.81 130.95h0M591.81 132.25h0M591.81 132.91h0" stroke="#333333" stroke-width="3.8" stroke-linecap="round" fill="none"/>
<path d="M591.81 92.05V104.96M591.81 114.28V125.88" stroke="#3c3c3c" stroke-width="0.95" fill="none"/>
<rect x="588.76" y="104.96" width="6.1" height="9.32" fill="#00BA38" stroke="#333333" stroke-width="1"/>
<path d="M588.76 110.03H594.86" stroke="#333333" stroke-width="1.9" fill="none"/>
<path d="M597.91 129.97h0M597.91 130.95h0M597.91 131.93h0M597.91 132.91h0M597.91 133.89h0M597.91 135.85h0M597.91 137.65h0" stroke="#333333" stroke-width="3.8" stroke-linecap="round" fill="none"/>
<path d="M597.91 92.05V104.96M597.91 115.58V128.33" stroke="#3c3c3c" stroke-width="0.95" fill="none"/>
<rect x="594.86" y="104.96" width="6.1" height="10.62" fill="#619CFF" stroke="#333333" stroke-width="1"/>
<path d="M594.86 110.35H600.97" stroke="#333333" stroke-width="1.9" fill="none"/>
<path d="M610.12 77.5h0M610.12 107.9h0M610.12 109.21h0M610.12 110.52h0M610.12 111.82h0M610.12 113.13h0M610.12 113.62h0" stroke="#333333" stroke-width="3.8" stroke-linecap="round" fill="none"/>
<path d="M610.12 78.81V89.43M610.12 97.6V106.76" stroke="#3c3c3c" stroke-width="0.95" fill="none"/>
<rect x="607.07" y="89.43" width="6.1" height="8.17" fill="#F8766D" stroke="#333333" stroke-width="1"/>
<path d="M607.07 93.35H613.18" stroke="#333333" stroke-width="1.9" fill="none"/>
<path d="M616.23 107.9h0M616.23 109.21h0M616.23 110.52h0M616.23 111.82h0M616.23 111.99h0" stroke="#333333" stroke-width="3.8" stroke-linecap="round" fill="none"/>
<path d="M616.23 78.81V89.43M616.23 97.6V106.76" stroke="#3c3c3c" stroke-width="0.95" fill="none"/>
<rect x="613.18" y="89.43" width="6.1" height="8.17" fill="#00BA38" stroke="#333333" stroke-width="1"/>
<path d="M613.18 93.35H619.28" stroke="#333333" stroke-width="1.9" fill="none"/>
<path d="M622.33 85.18h0M622.33 107.9h0M622.33 109.21h0M622.33 110.52h0M622.33 111.82h0M622.33 113.13h0M622.33 114.44h0" stroke="#333333" stroke-width="3.8" stroke-linecap="round" fill="none"/>
<path d="M622.33 86.98V94.66M622.33 99.73V106.76" stroke="#3c3c3c" stroke-width="0.95" fill="none"/>
<rect x="619.28" y="94.66" width="6.1" height="5.07" fill="#619CFF" stroke="#333333" stroke-width="1"/>
<path d="M619.28 97.11H625.39" stroke="#333333" stroke-width="1.9" fill="none"/>
<path d="M634.54 86.65h0M634.54 87.96h0M634.54 89.27h0M634.54 90.57h0M634.54 91.56h0" stroke="#333333" stroke-width="3.8" stroke-linecap="round" fill="none"/>
<path d="M634.54 60.5V68.18M634.54 76.35V85.67" stroke="#3c3c3c" stroke-width="0.95" fill="none"/>
<rect x="631.49" y="68.18" width="6.1" height="8.17" fill="#F8766D" stroke="#333333" stroke-width="1"/>
<path d="M631.49 72.43H637.6" stroke="#333333" stroke-width="1.9" fill="none"/>
<path d="M640.65 87.96h0" stroke="#333333" stroke-width="3.8" stroke-linecap="round" fill="none"/>
<path d="M640.65 62.13V68.18M640.65 76.35V86.33" stroke="#3c3c3c" stroke-width="0.95" fill="none"/>
<rect x="637.6" y="68.18" width="6.1" height="8.17" fill="#00BA38" stroke="#333333" stroke-width="1"/>
<path d="M637.6 72.43H643.7" stroke="#333333" stroke-width="1.9" fill="none"/>
<path d="M646.75 85.18V90.08M646.75 94.66V99.73" stroke="#3c3c3c" stroke-width="0.95" fill="none"/>
<rect x="643.7" y="90.08" width="6.1" height="4.58" fill="#619CFF" stroke="#333333" stroke-width="1"/>
<path d="M643.7 91.31H649.81" stroke="#333333" stroke-width="1.9" fill="none"/>
<rect x="503.9" y="52.35" width="151.4" height="179.75" fill="none" stroke="#888" stroke-width="1" rx="0.8"/>
</g>
<g>
<rect x="659.9" y="52.35" width="150.6" height="179.75" fill="#fff"/>
<path d="M659.9 203.52H810.5M659.9 162.66H810.5M659.9 121.79H810.5M659.9 80.93H810.5" stroke="#f7f7f7" stroke-width="0.6" fill="none"/>
<path d="M659.9 223.95H810.5M659.9 183.09H810.5M659.9 142.22H810.5M659.9 101.36H810.5M659.9 60.5H810.5M674.55 52.35V232.1M698.97 52.35V232.1M723.39 52.35V232.1M747.81 52.35V232.1M772.23 52.35V232.1M796.65 52.35V232.1" stroke="#e8e8e8" stroke-width="0.6" fill="none"/>
<path d="M668.45 221.99h0" stroke="#333333" stroke-width="3.8" stroke-linecap="round" fill="none"/>
<path d="M668.45 223.95V223.95M668.45 223.95V223.95" stroke="#3c3c3c" stroke-width="0.95" fill="none"/>
<rect x="665.39" y="223.95" width="6.1" height="0.01" fill="#F8766D" stroke="#333333" stroke-width="1"/>
<path d="M665.39 223.95H671.5" stroke="#333333" stroke-width="1.9" fill="none"/>
<path d="M674.55 223.95V223.95M674.55 223.95V223.95" stroke="#3c3c3c" stroke-width="0.95" fill="none"/>
<rect x="671.5" y="223.95" width="6.1" height="0.01" fill="#00BA38" stroke="#333333" stroke-width="1"/>
<path d="M671.5 223.95H677.6" stroke="#333333" stroke-width="1.9" fill="none"/>
<path d="M680.66 221.99h0" stroke="#333333" stroke-width="3.8" stroke-linecap="round" fill="none"/>
<path d="M680.66 223.95V223.95M680.66 223.95V223.95" stroke="#3c3c3c" stroke-width="0.95" fill="none"/>
<rect x="677.6" y="223.95" width="6.1" height="0.01" fill="#619CFF" stroke="#333333" stroke-width="1"/>
<path d="M677.6 223.95H683.71" stroke="#333333" stroke-width="1.9" fill="none"/>
<path d="M692.87 221.99h0M692.87 220.68h0M692.87 219.37h0M692.87 218.07h0M692.87 217.41h0" stroke="#333333" stroke-width="3.8" stroke-linecap="round" fill="none"/>
<path d="M692.87 223.95V223.95M692.87 223.95V223.95" stroke="#3c3c3c" stroke-width="0.95" fill="none"/>
<rect x="689.81" y="223.95" width="6.1" height="0.01" fill="#F8766D" stroke="#333333" stroke-width="1"/>
<path d="M689.81 223.95H695.92" stroke="#333333" stroke-width="1.9" fill="none"/>
<path d="M698.97 221.99h0M698.97 220.68h0M698.97 219.37h0M698.97 218.07h0M698.97 217.41h0" stroke="#333333" stroke-width="3.8" stroke-linecap="round" fill="none"/>
<path d="M698.97 223.95V223.95M698.97 223.95V223.95" stroke="#3c3c3c" stroke-width="0.95" fill="none"/>
<rect x="695.92" y="223.95" width="6.1" height="0.01" fill="#00BA38" stroke="#333333" stroke-width="1"/>
<path d="M695.92 223.95H702.02" stroke="#333333" stroke-width="1.9" fill="none"/>
<path d="M705.08 221.99h0M705.08 220.68h0M705.08 219.37h0M705.08 219.05h0" stroke="#333333" stroke-width="3.8" stroke-linecap="round" fill="none"/>
<path d="M705.08 223.95V223.95M705.08 223.95V223.95" stroke="#3c3c3c" stroke-width="0.95" fill="none"/>
<rect x="702.02" y="223.95" width="6.1" height="0.01" fill="#619CFF" stroke="#333333" stroke-width="1"/>
<path d="M702.02 223.95H708.13" stroke="#333333" stroke-width="1.9" fill="none"/>
<path d="M717.29 125.23h0M717.29 123.92h0M717.29 122.61h0M717.29 121.3h0M717.29 120.32h0M717.29 149.25h0M717.29 148.27h0M717.29 147.29h0M717.29 146.31h0M717.29 145.33h0M717.29 144.35h0M717.29 143.37h0M717.29 142.39h0M717.29 141.41h0M717.29 140.43h0M717.29 139.45h0M717.29 137.48h0M717.29 135.52h0M717.29 133.56h0M717.29 130.78h0" stroke="#333333" stroke-width="3.8" stroke-linecap="round" fill="none"/>
<path d="M717.29 150.23V194.04M717.29 222.32V223.95" stroke="#3c3c3c" stroke-width="0.95" fill="none"/>
<rect x="714.23" y="194.04" width="6.1" height="28.28" fill="#F8766D" stroke="#333333" stroke-width="1"/>
<path d="M714.23 216.27H720.34" stroke="#333333" stroke-width="1.9" fill="none"/>
<path d="M723.39 110.35h0M723.39 133.89h0M723.39 132.91h0M723.39 131.93h0M723.39 130.95h0M723.39 129.97h0M723.39 128.99h0M723.39 128h0M723.39 127.02h0M723.39 125.06h0M723.39 123.1h0M723.39 121.3h0M723.39 141.57h0M723.39 140.26h0M723.39 138.96h0M723.39 137.65h0M723.39 136.83h0" stroke="#333333" stroke-width="3.8" stroke-linecap="round" fill="none"/>
<path d="M723.39 142.55V191.1M723.39 222.32V223.95" stroke="#3c3c3c" stroke-width="0.95" fill="none"/>
<rect x="720.34" y="191.1" width="6.1" height="31.22" fill="#00BA38" stroke="#333333" stroke-width="1"/>
<path d="M720.34 213.33H726.44" stroke="#333333" stroke-width="1.9" fill="none"/>
<path d="M729.5 146.47h0M729.5 145.49h0M729.5 144.51h0M729.5 143.53h0M729.5 142.55h0M729.5 141.57h0M729.5 140.59h0M729.5 139.61h0M729.5 138.63h0M729.5 137.65h0M729.5 136.67h0M729.5 135.69h0M729.5 134.71h0M729.5 132.74h0M729.5 130.78h0M729.5 128.82h0M729.5 125.55h0M729.5 124.25h0" stroke="#333333" stroke-width="3.8" stroke-linecap="round" fill="none"/>
<path d="M729.5 147.29V191.59M729.5 221.5V223.95" stroke="#3c3c3c" stroke-width="0.95" fill="none"/>
<rect x="726.44" y="191.59" width="6.1" height="29.91" fill="#619CFF" stroke="#333333" stroke-width="1"/>
<path d="M726.44 212.18H732.55" stroke="#333333" stroke-width="1.9" fill="none"/>
<path d="M741.7 135.85h0M741.7 136.83h0M741.7 137.81h0M741.7 138.79h0M741.7 139.77h0M741.7 140.75h0M741.7 141.73h0M741.7 142.72h0M741.7 144.68h0M741.7 146.64h0M741.7 149.25h0" stroke="#333333" stroke-width="3.8" stroke-linecap="round" fill="none"/>
<path d="M741.7 94.66V109.21M741.7 119.34V134.87" stroke="#3c3c3c" stroke-width="0.95" fill="none"/>
<rect x="738.65" y="109.21" width="6.1" height="10.13" fill="#F8766D" stroke="#333333" stroke-width="1"/>
<path d="M738.65 114.11H744.76" stroke="#333333" stroke-width="1.9" fill="none"/>
<path d="M747.81 93.35h0M747.81 135.85h0M747.81 136.83h0M747.81 137.81h0M747.81 138.79h0M747.81 139.77h0M747.81 140.75h0M747.81 141.73h0M747.81 143.7h0M747.81 145.66h0M747.81 146.47h0" stroke="#333333" stroke-width="3.8" stroke-linecap="round" fill="none"/>
<path d="M747.81 95.64V109.21M747.81 119.34V134.87" stroke="#3c3c3c" stroke-width="0.95" fill="none"/>
<rect x="744.76" y="109.21" width="6.1" height="10.13" fill="#00BA38" stroke="#333333" stroke-width="1"/>
<path d="M744.76 114.11H750.86" stroke="#333333" stroke-width="1.9" fill="none"/>
<path d="M753.91 137.81h0M753.91 138.79h0M753.91 139.77h0M753.91 140.75h0M753.91 141.73h0M753.91 142.72h0M753.91 144.68h0M753.91 146.64h0M753.91 147.29h0M753.91 152.2h0" stroke="#333333" stroke-width="3.8" stroke-linecap="round" fill="none"/>
<path d="M753.91 95.81V109.21M753.91 120.32V134.87" stroke="#3c3c3c" stroke-width="0.95" fill="none"/>
<rect x="750.86" y="109.21" width="6.1" height="11.11" fill="#619CFF" stroke="#333333" stroke-width="1"/>
<path d="M750.86 114.6H756.97" stroke="#333333" stroke-width="1.9" fill="none"/>
<path d="M766.12 78.81h0M766.12 111.66h0M766.12 112.97h0M766.12 114.28h0M766.12 115.58h0M766.12 116.89h0M766.12 117.38h0" stroke="#333333" stroke-width="3.8" stroke-linecap="round" fill="none"/>
<path d="M766.12 80.44V91.72M766.12 99.73V110.68" stroke="#3c3c3c" stroke-width="0.95" fill="none"/>
<rect x="763.07" y="91.72" width="6.1" height="8.01" fill="#F8766D" stroke="#333333" stroke-width="1"/>
<path d="M763.07 95.81H769.18" stroke="#333333" stroke-width="1.9" fill="none"/>
<path d="M772.23 78.81h0M772.23 111.66h0M772.23 112.97h0M772.23 114.28h0M772.23 114.44h0" stroke="#333333" stroke-width="3.8" stroke-linecap="round" fill="none"/>
<path d="M772.23 80.44V91.72M772.23 99.73V110.68" stroke="#3c3c3c" stroke-width="0.95" fill="none"/>
<rect x="769.18" y="91.72" width="6.1" height="8.01" fill="#00BA38" stroke="#333333" stroke-width="1"/>
<path d="M769.18 95.81H775.28" stroke="#333333" stroke-width="1.9" fill="none"/>
<path d="M778.33 85.18h0M778.33 111.66h0M778.33 112.97h0M778.33 114.28h0M778.33 115.58h0M778.33 115.58h0" stroke="#333333" stroke-width="3.8" stroke-linecap="round" fill="none"/>
<path d="M778.33 86.98V95.64M778.33 102.34V110.68" stroke="#3c3c3c" stroke-width="0.95" fill="none"/>
<rect x="775.28" y="95.64" width="6.1" height="6.7" fill="#619CFF" stroke="#333333" stroke-width="1"/>
<path d="M775.28 99.07H781.39" stroke="#333333" stroke-width="1.9" fill="none"/>
<path d="M790.54 94.66h0" stroke="#333333" stroke-width="3.8" stroke-linecap="round" fill="none"/>
<path d="M790.54 61.97V70.8M790.54 80.28V91.39" stroke="#3c3c3c" stroke-width="0.95" fill="none"/>
<rect x="787.49" y="70.8" width="6.1" height="9.48" fill="#F8766D" stroke="#333333" stroke-width="1"/>
<path d="M787.49 75.54H793.6" stroke="#333333" stroke-width="1.9" fill="none"/>
<path d="M796.65 61.97V72.1M796.65 80.28V91.39" stroke="#3c3c3c" stroke-width="0.95" fill="none"/>
<rect x="793.6" y="72.1" width="6.1" height="8.17" fill="#00BA38" stroke="#333333" stroke-width="1"/>
<path d="M793.6 76.52H799.7" stroke="#333333" stroke-width="1.9" fill="none"/>
<path d="M802.75 101.2h0" stroke="#333333" stroke-width="3.8" stroke-linecap="round" fill="none"/>
<path d="M802.75 85.18V90.08M802.75 94.66V98.91" stroke="#3c3c3c" stroke-width="0.95" fill="none"/>
<rect x="799.7" y="90.08" width="6.1" height="4.58" fill="#619CFF" stroke="#333333" stroke-width="1"/>
<path d="M799.7 91.31H805.81" stroke="#333333" stroke-width="1.9" fill="none"/>
<rect x="659.9" y="52.35" width="150.6" height="179.75" fill="none" stroke="#888" stroke-width="1" rx="0.8"/>
</g>
<text x="32.0" y="226.75" font-size="7.9" text-anchor="end" fill="#111">0.00</text>
<text x="32.0" y="185.89" font-size="7.9" text-anchor="end" fill="#111">0.25</text>
<text x="32.0" y="145.03" font-size="7.9" text-anchor="end" fill="#111">0.50</text>
<text x="32.0" y="104.16" font-size="7.9" text-anchor="end" fill="#111">0.75</text>
<text x="32.0" y="63.3" font-size="7.9" text-anchor="end" fill="#111">1.00</text>
<path d="M35.9 223.95h-2.8M35.9 183.09h-2.8M35.9 142.22h-2.8M35.9 101.36h-2.8M35.9 60.5h-2.8" stroke="#000" stroke-width="1" fill="none"/>
<g>
<rect x="35.9" y="236.8" width="151.4" height="179.7" fill="#fff"/>
<path d="M35.9 388.02H187.3M35.9 347.16H187.3M35.9 306.29H187.3M35.9 265.43H187.3" stroke="#f7f7f7" stroke-width="0.6" fill="none"/>
<path d="M35.9 408.45H187.3M35.9 367.59H187.3M35.9 326.73H187.3M35.9 285.86H187.3M35.9 245H187.3M50.55 236.8V416.5M74.97 236.8V416.5M99.39 236.8V416.5M123.81 236.8V416.5M148.23 236.8V416.5M172.65 236.8V416.5" stroke="#e8e8e8" stroke-width="0.6" fill="none"/>
<path d="M44.45 254.48h0M44.45 255.79h0M44.45 257.1h0M44.45 258.4h0M44.45 259.71h0M44.45 260.2h0M44.45 344.7h0" stroke="#333333" stroke-width="3.8" stroke-linecap="round" fill="none"/>
<path d="M44.45 245V247.62M44.45 250.23V253.17" stroke="#3c3c3c" stroke-width="0.95" fill="none"/>
<rect x="41.39" y="247.62" width="6.1" height="2.62" fill="#F8766D" stroke="#333333" stroke-width="1"/>
<path d="M41.39 248.92H47.5" stroke="#333333" stroke-width="1.9" fill="none"/>
<path d="M50.55 305.48h0M50.55 314.3h0M50.55 315.28h0M50.55 316.26h0M50.55 317.24h0M50.55 318.23h0M50.55 319.21h0M50.55 320.19h0M50.55 321.17h0M50.55 322.15h0M50.55 323.13h0M50.55 324.11h0M50.55 325.09h0M50.55 326.07h0M50.55 327.05h0M50.55 328.03h0M50.55 329.01h0M50.55 329.99h0M50.55 330.97h0M50.55 331.96h0M50.55 332.94h0M50.55 333.92h0M50.55 334.9h0M50.55 335.88h0M50.55 336.86h0M50.55 337.84h0M50.55 339.8h0M50.55 341.76h0M50.55 343.72h0M50.55 345.69h0M50.55 347.65h0M50.55 349.61h0M50.55 352.88h0M50.55 356.15h0M50.55 359.42h0M50.55 361.05h0M50.55 361.38h0M50.55 362.36h0M50.55 363.34h0M50.55 364.32h0M50.55 365.3h0M50.55 366.28h0M50.55 367.26h0M50.55 368.24h0M50.55 370.2h0M50.55 372.16h0M50.55 374.94h0M50.55 377.72h0M50.55 379.03h0M50.55 380.34h0M50.55 381.64h0M50.55 382.62h0M50.55 387.86h0M50.55 396.19h0M50.55 408.45h0" stroke="#333333" stroke-width="3.8" stroke-linecap="round" fill="none"/>
<path d="M50.55 247.94V255.79M50.55 261.67V270.83" stroke="#3c3c3c" stroke-width="0.95" fill="none"/>
<rect x="47.5" y="255.79" width="6.1" height="5.88" fill="#00BA38" stroke="#333333" stroke-width="1"/>
<path d="M47.5 258.89H53.6" stroke="#333333" stroke-width="1.9" fill="none"/>
<path d="M56.66 284.72h0M56.66 370.37h0M56.66 371.35h0M56.66 372.33h0M56.66 373.31h0M56.66 374.29h0M56.66 376.25h0M56.66 378.05h0M56.66 380.01h0M56.66 380.99h0M56.66 381.97h0M56.66 382.95h0M56.66 383.93h0M56.66 384.91h0M56.66 385.89h0M56.66 387.86h0M56.66 389.82h0M56.66 391.29h0M56.66 396.52h0M56.66 397.83h0M56.66 399.13h0M56.66 399.95h0M56.66 402.89h0M56.66 404.2h0M56.66 405.51h0M56.66 406.82h0M56.66 408.12h0M56.66 408.45h0" stroke="#333333" stroke-width="3.8" stroke-linecap="round" fill="none"/>
<path d="M56.66 293.54V321M56.66 340.78V369.39" stroke="#3c3c3c" stroke-width="0.95" fill="none"/>
<rect x="53.6" y="321" width="6.1" height="19.78" fill="#619CFF" stroke="#333333" stroke-width="1"/>
<path d="M53.6 331.63H59.71" stroke="#333333" stroke-width="1.9" fill="none"/>
<path d="M68.87 245V246.31M68.87 318.23V357.78" stroke="#3c3c3c" stroke-width="0.95" fill="none"/>
<rect x="65.81" y="246.31" width="6.1" height="71.92" fill="#F8766D" stroke="#333333" stroke-width="1"/>
<path d="M65.81 249H71.92" stroke="#333333" stroke-width="1.9" fill="none"/>
<path d="M74.97 271.81h0M74.97 270.83h0M74.97 269.84h0M74.97 268.86h0M74.97 267.88h0M74.97 266.9h0M74.97 265.92h0M74.97 264.94h0M74.97 263.96h0M74.97 262.98h0M74.97 262h0M74.97 261.02h0M74.97 260.04h0M74.97 259.06h0M74.97 258.08h0M74.97 257.1h0M74.97 256.11h0M74.97 255.13h0M74.97 254.15h0M74.97 253.17h0M74.97 252.19h0M74.97 251.21h0M74.97 250.23h0M74.97 249.25h0M74.97 248.27h0M74.97 247.29h0M74.97 349.61h0" stroke="#333333" stroke-width="3.8" stroke-linecap="round" fill="none"/>
<path d="M74.97 283.41V307.11M74.97 323.46V347.97" stroke="#3c3c3c" stroke-width="0.95" fill="none"/>
<rect x="71.92" y="307.11" width="6.1" height="16.35" fill="#00BA38" stroke="#333333" stroke-width="1"/>
<path d="M71.92 316.1H78.02" stroke="#333333" stroke-width="1.9" fill="none"/>
<path d="M81.08 343.07h0M81.08 344.38h0M81.08 345.69h0M81.08 346.18h0M81.08 349.12h0M81.08 350.43h0M81.08 351.73h0M81.08 353.04h0M81.08 353.86h0" stroke="#333333" stroke-width="3.8" stroke-linecap="round" fill="none"/>
<path d="M81.08 291.09V310.71M81.08 323.46V341.44" stroke="#3c3c3c" stroke-width="0.95" fill="none"/>
<rect x="78.02" y="310.71" width="6.1" height="12.75" fill="#619CFF" stroke="#333333" stroke-width="1"/>
<path d="M78.02 316.92H84.13" stroke="#333333" stroke-width="1.9" fill="none"/>
<path d="M93.29 245.82h0M93.29 264.61h0M93.29 269.84h0M93.29 277.69h0M93.29 276.38h0M93.29 275.07h0M93.29 273.77h0M93.29 272.79h0" stroke="#333333" stroke-width="3.8" stroke-linecap="round" fill="none"/>
<path d="M93.29 279.49V292.07M93.29 302.7V316.59" stroke="#3c3c3c" stroke-width="0.95" fill="none"/>
<rect x="90.23" y="292.07" width="6.1" height="10.62" fill="#F8766D" stroke="#333333" stroke-width="1"/>
<path d="M90.23 296.81H96.34" stroke="#333333" stroke-width="1.9" fill="none"/>
<path d="M99.39 254.32h0M99.39 253.01h0M99.39 252.36h0M99.39 269.84h0M99.39 268.54h0M99.39 267.88h0M99.39 276.87h0M99.39 275.57h0M99.39 274.26h0M99.39 273.6h0" stroke="#333333" stroke-width="3.8" stroke-linecap="round" fill="none"/>
<path d="M99.39 279.49V292.07M99.39 302.7V317.74" stroke="#3c3c3c" stroke-width="0.95" fill="none"/>
<rect x="96.34" y="292.07" width="6.1" height="10.62" fill="#00BA38" stroke="#333333" stroke-width="1"/>
<path d="M96.34 296.81H102.44" stroke="#333333" stroke-width="1.9" fill="none"/>
<path d="M105.5 278.02h0M105.5 321h0M105.5 323.95h0M105.5 325.25h0M105.5 326.56h0M105.5 326.89h0" stroke="#333333" stroke-width="3.8" stroke-linecap="round" fill="none"/>
<path d="M105.5 281.45V294.04M105.5 304.01V319.21" stroke="#3c3c3c" stroke-width="0.95" fill="none"/>
<rect x="102.44" y="294.04" width="6.1" height="9.97" fill="#619CFF" stroke="#333333" stroke-width="1"/>
<path d="M102.44 298.78H108.55" stroke="#333333" stroke-width="1.9" fill="none"/>
<path d="M117.7 263.47V276.55M117.7 286.84V300.74" stroke="#3c3c3c" stroke-width="0.95" fill="none"/>
<rect x="114.65" y="276.55" width="6.1" height="10.3" fill="#F8766D" stroke="#333333" stroke-width="1"/>
<path d="M114.65 281.45H120.76" stroke="#333333" stroke-width="1.9" fill="none"/>
<path d="M123.81 253.99h0M123.81 259.22h0M123.81 304.01h0" stroke="#333333" stroke-width="3.8" stroke-linecap="round" fill="none"/>
<path d="M123.81 262.16V276.55M123.81 286.84V301.39" stroke="#3c3c3c" stroke-width="0.95" fill="none"/>
<rect x="120.76" y="276.55" width="6.1" height="10.3" fill="#00BA38" stroke="#333333" stroke-width="1"/>
<path d="M120.76 281.45H126.86" stroke="#333333" stroke-width="1.9" fill="none"/>
<path d="M129.91 274.75h0M129.91 273.44h0M129.91 272.13h0M129.91 270.83h0M129.91 269.84h0M129.91 300.74h0M129.91 302.04h0M129.91 303.35h0M129.91 304.66h0M129.91 305.48h0" stroke="#333333" stroke-width="3.8" stroke-linecap="round" fill="none"/>
<path d="M129.91 276.55V284.72M129.91 290.44V299.76" stroke="#3c3c3c" stroke-width="0.95" fill="none"/>
<rect x="126.86" y="284.72" width="6.1" height="5.72" fill="#619CFF" stroke="#333333" stroke-width="1"/>
<path d="M126.86 287.82H132.97" stroke="#333333" stroke-width="1.9" fill="none"/>
<path d="M142.12 282.43h0M142.12 283.74h0M142.12 285.05h0M142.12 286.19h0" stroke="#333333" stroke-width="3.8" stroke-linecap="round" fill="none"/>
<path d="M142.12 250.56V262.16M142.12 269.84V281.45" stroke="#3c3c3c" stroke-width="0.95" fill="none"/>
<rect x="139.07" y="262.16" width="6.1" height="7.68" fill="#F8766D" stroke="#333333" stroke-width="1"/>
<path d="M139.07 265.92H145.18" stroke="#333333" stroke-width="1.9" fill="none"/>
<path d="M148.23 248.92h0M148.23 282.43h0M148.23 283.74h0M148.23 285.05h0M148.23 286.19h0" stroke="#333333" stroke-width="3.8" stroke-linecap="round" fill="none"/>
<path d="M148.23 251.54V262.16M148.23 269.84V281.45" stroke="#3c3c3c" stroke-width="0.95" fill="none"/>
<rect x="145.18" y="262.16" width="6.1" height="7.68" fill="#00BA38" stroke="#333333" stroke-width="1"/>
<path d="M145.18 265.92H151.28" stroke="#333333" stroke-width="1.9" fill="none"/>
<path d="M154.33 293.38h0M154.33 297.3h0" stroke="#333333" stroke-width="3.8" stroke-linecap="round" fill="none"/>
<path d="M154.33 271.81V278.83M154.33 284.39V291.42" stroke="#3c3c3c" stroke-width="0.95" fill="none"/>
<rect x="151.28" y="278.83" width="6.1" height="5.56" fill="#619CFF" stroke="#333333" stroke-width="1"/>
<path d="M151.28 281.45H157.39" stroke="#333333" stroke-width="1.9" fill="none"/>
<path d="M166.54 258.24h0M166.54 259.55h0M166.54 260.85h0M166.54 262.16h0M166.54 263.14h0" stroke="#333333" stroke-width="3.8" stroke-linecap="round" fill="none"/>
<path d="M166.54 245V248.92M166.54 252.85V256.44" stroke="#3c3c3c" stroke-width="0.95" fill="none"/>
<rect x="163.49" y="248.92" width="6.1" height="3.92" fill="#F8766D" stroke="#333333" stroke-width="1"/>
<path d="M163.49 251.86H169.6" stroke="#333333" stroke-width="1.9" fill="none"/>
<path d="M172.65 258.24h0M172.65 259.22h0M172.65 260.2h0M172.65 261.18h0M172.65 262.16h0M172.65 264.12h0M172.65 264.94h0" stroke="#333333" stroke-width="3.8" stroke-linecap="round" fill="none"/>
<path d="M172.65 245V248.92M172.65 252.85V256.44" stroke="#3c3c3c" stroke-width="0.95" fill="none"/>
<rect x="169.6" y="248.92" width="6.1" height="3.92" fill="#00BA38" stroke="#333333" stroke-width="1"/>
<path d="M169.6 249.9H175.7" stroke="#333333" stroke-width="1.9" fill="none"/>
<path d="M178.75 270.33h0M178.75 269.03h0M178.75 268.54h0M178.75 285.86h0M178.75 287.17h0M178.75 288.48h0M178.75 289.79h0M178.75 290.11h0" stroke="#333333" stroke-width="3.8" stroke-linecap="round" fill="none"/>
<path d="M178.75 271.81V276.55M178.75 280.47V284.88" stroke="#3c3c3c" stroke-width="0.95" fill="none"/>
<rect x="175.7" y="276.55" width="6.1" height="3.92" fill="#619CFF" stroke="#333333" stroke-width="1"/>
<path d="M175.7 277.44H181.81" stroke="#333333" stroke-width="1.9" fill="none"/>
<rect x="35.9" y="236.8" width="151.4" height="179.7" fill="none" stroke="#888" stroke-width="1" rx="0.8"/>
</g>
<text x="50.55" y="427.4" font-size="7.9" text-anchor="middle" fill="#111">50</text>
<text x="74.97" y="427.4" font-size="7.9" text-anchor="middle" fill="#111">100</text>
<text x="99.39" y="427.4" font-size="7.9" text-anchor="middle" fill="#111">250</text>
<text x="123.81" y="427.4" font-size="7.9" text-anchor="middle" fill="#111">500</text>
<text x="148.23" y="427.4" font-size="7.9" text-anchor="middle" fill="#111">1000</text>
<text x="172.65" y="427.4" font-size="7.9" text-anchor="middle" fill="#111">2500</text>
<path d="M50.55 416.5v2.6M74.97 416.5v2.6M99.39 416.5v2.6M123.81 416.5v2.6M148.23 416.5v2.6M172.65 416.5v2.6" stroke="#000" stroke-width="1" fill="none"/>
<g>
<rect x="191.9" y="236.8" width="151.4" height="179.7" fill="#fff"/>
<path d="M191.9 388.02H343.3M191.9 347.16H343.3M191.9 306.29H343.3M191.9 265.43H343.3" stroke="#f7f7f7" stroke-width="0.6" fill="none"/>
<path d="M191.9 408.45H343.3M191.9 367.59H343.3M191.9 326.73H343.3M191.9 285.86H343.3M191.9 245H343.3M206.55 236.8V416.5M230.97 236.8V416.5M255.39 236.8V416.5M279.81 236.8V416.5M304.23 236.8V416.5M328.65 236.8V416.5" stroke="#e8e8e8" stroke-width="0.6" fill="none"/>
<path d="M200.45 258.24h0M200.45 257.26h0M200.45 256.28h0M200.45 255.3h0M200.45 254.32h0M200.45 253.34h0M200.45 252.36h0M200.45 251.37h0M200.45 249.41h0M200.45 247.45h0M200.45 245h0M200.45 260.69h0M200.45 350.1h0M200.45 380.99h0M200.45 379.68h0M200.45 378.38h0M200.45 377.07h0M200.45 406.49h0M200.45 405.51h0M200.45 404.53h0M200.45 403.55h0M200.45 402.57h0M200.45 401.59h0M200.45 400.6h0M200.45 399.62h0M200.45 398.64h0M200.45 397.66h0M200.45 396.68h0M200.45 395.7h0M200.45 393.74h0M200.45 391.78h0M200.45 389.82h0M200.45 386.55h0M200.45 385.57h0" stroke="#333333" stroke-width="3.8" stroke-linecap="round" fill="none"/>
<path d="M200.45 408.45V408.45M200.45 408.45V408.45" stroke="#3c3c3c" stroke-width="0.95" fill="none"/>
<rect x="197.39" y="408.45" width="6.1" height="0.01" fill="#F8766D" stroke="#333333" stroke-width="1"/>
<path d="M197.39 408.45H203.5" stroke="#333333" stroke-width="1.9" fill="none"/>
<path d="M206.55 333.1h0M206.55 336.53h0M206.55 351.24h0M206.55 349.93h0M206.55 349.12h0M206.55 368.4h0M206.55 376.09h0M206.55 406.49h0M206.55 405.51h0M206.55 404.53h0M206.55 403.55h0M206.55 402.57h0M206.55 401.59h0M206.55 400.6h0M206.55 399.62h0M206.55 398.64h0M206.55 397.66h0M206.55 396.68h0M206.55 395.7h0M206.55 394.72h0M206.55 393.74h0M206.55 391.78h0M206.55 389.82h0M206.55 387.86h0M206.55 384.59h0M206.55 381.64h0" stroke="#333333" stroke-width="3.8" stroke-linecap="round" fill="none"/>
<path d="M206.55 408.45V408.45M206.55 408.45V408.45" stroke="#3c3c3c" stroke-width="0.95" fill="none"/>
<rect x="203.5" y="408.45" width="6.1" height="0.01" fill="#00BA38" stroke="#333333" stroke-width="1"/>
<path d="M203.5 408.45H209.6" stroke="#333333" stroke-width="1.9" fill="none"/>
<path d="M212.66 340.29h0M212.66 338.98h0M212.66 337.68h0M212.66 337.02h0M212.66 349.12h0M212.66 347.81h0M212.66 346.5h0M212.66 345.19h0M212.66 344.7h0M212.66 355.82h0M212.66 369.39h0M212.66 368.08h0M212.66 366.77h0M212.66 366.44h0M212.66 373.14h0M212.66 406.49h0M212.66 405.51h0M212.66 404.53h0M212.66 403.55h0M212.66 402.57h0M212.66 401.59h0M212.66 400.6h0M212.66 399.62h0M212.66 398.64h0M212.66 397.66h0M212.66 396.68h0M212.66 395.7h0M212.66 394.72h0M212.66 393.74h0M212.66 392.76h0M212.66 390.8h0M212.66 388.84h0M212.66 386.87h0M212.66 383.61h0M212.66 380.66h0" stroke="#333333" stroke-width="3.8" stroke-linecap="round" fill="none"/>
<path d="M212.66 408.45V408.45M212.66 408.45V408.45" stroke="#3c3c3c" stroke-width="0.95" fill="none"/>
<rect x="209.6" y="408.45" width="6.1" height="0.01" fill="#619CFF" stroke="#333333" stroke-width="1"/>
<path d="M209.6 408.45H215.71" stroke="#333333" stroke-width="1.9" fill="none"/>
<path d="M224.87 249.58h0M224.87 248.27h0M224.87 246.96h0M224.87 245.65h0M224.87 245h0" stroke="#333333" stroke-width="3.8" stroke-linecap="round" fill="none"/>
<path d="M224.87 305.48V330.32M224.87 374.53V408.45" stroke="#3c3c3c" stroke-width="0.95" fill="none"/>
<rect x="221.81" y="330.32" width="6.1" height="44.21" fill="#F8766D" stroke="#333333" stroke-width="1"/>
<path d="M221.81 344.21H227.92" stroke="#333333" stroke-width="1.9" fill="none"/>
<path d="M230.97 301.72V330.32M230.97 370.69V408.45" stroke="#3c3c3c" stroke-width="0.95" fill="none"/>
<rect x="227.92" y="330.32" width="6.1" height="40.37" fill="#00BA38" stroke="#333333" stroke-width="1"/>
<path d="M227.92 345.19H234.02" stroke="#333333" stroke-width="1.9" fill="none"/>
<path d="M237.08 306.46V331.63M237.08 374.53V408.45" stroke="#3c3c3c" stroke-width="0.95" fill="none"/>
<rect x="234.02" y="331.63" width="6.1" height="42.91" fill="#619CFF" stroke="#333333" stroke-width="1"/>
<path d="M234.02 347.48H240.13" stroke="#333333" stroke-width="1.9" fill="none"/>
<path d="M249.29 287.17h0M249.29 328.85h0M249.29 330.16h0M249.29 331.47h0M249.29 332.61h0M249.29 340.29h0" stroke="#333333" stroke-width="3.8" stroke-linecap="round" fill="none"/>
<path d="M249.29 289.13V302.7M249.29 311.36V324.93" stroke="#3c3c3c" stroke-width="0.95" fill="none"/>
<rect x="246.23" y="302.7" width="6.1" height="8.66" fill="#F8766D" stroke="#333333" stroke-width="1"/>
<path d="M246.23 307.11H252.34" stroke="#333333" stroke-width="1.9" fill="none"/>
<path d="M255.39 287.17h0M255.39 285.86h0M255.39 284.55h0M255.39 284.39h0M255.39 324.93h0M255.39 328.2h0M255.39 332.61h0M255.39 336.86h0" stroke="#333333" stroke-width="3.8" stroke-linecap="round" fill="none"/>
<path d="M255.39 288.31V301.72M255.39 310.71V323.46" stroke="#3c3c3c" stroke-width="0.95" fill="none"/>
<rect x="252.34" y="301.72" width="6.1" height="8.99" fill="#00BA38" stroke="#333333" stroke-width="1"/>
<path d="M252.34 306.46H258.44" stroke="#333333" stroke-width="1.9" fill="none"/>
<path d="M261.5 284.72h0M261.5 330.16h0" stroke="#333333" stroke-width="3.8" stroke-linecap="round" fill="none"/>
<path d="M261.5 287.5V301.72M261.5 311.36V326.73" stroke="#3c3c3c" stroke-width="0.95" fill="none"/>
<rect x="258.44" y="301.72" width="6.1" height="9.64" fill="#619CFF" stroke="#333333" stroke-width="1"/>
<path d="M258.44 306.46H264.55" stroke="#333333" stroke-width="1.9" fill="none"/>
<path d="M273.7 272.79h0M273.7 271.48h0M273.7 270.17h0M273.7 269.19h0M273.7 305.48h0M273.7 306.78h0M273.7 308.09h0M273.7 309.4h0M273.7 310.38h0" stroke="#333333" stroke-width="3.8" stroke-linecap="round" fill="none"/>
<path d="M273.7 273.77V285.86M273.7 293.38V304.5" stroke="#3c3c3c" stroke-width="0.95" fill="none"/>
<rect x="270.65" y="285.86" width="6.1" height="7.52" fill="#F8766D" stroke="#333333" stroke-width="1"/>
<path d="M270.65 289.79H276.76" stroke="#333333" stroke-width="1.9" fill="none"/>
<path d="M279.81 251.54h0M279.81 272.79h0M279.81 271.48h0M279.81 270.83h0M279.81 305.48h0M279.81 306.78h0M279.81 308.09h0M279.81 309.4h0M279.81 309.56h0" stroke="#333333" stroke-width="3.8" stroke-linecap="round" fill="none"/>
<path d="M279.81 273.77V285.86M279.81 293.38V304.5" stroke="#3c3c3c" stroke-width="0.95" fill="none"/>
<rect x="276.76" y="285.86" width="6.1" height="7.52" fill="#00BA38" stroke="#333333" stroke-width="1"/>
<path d="M276.76 289.79H282.86" stroke="#333333" stroke-width="1.9" fill="none"/>
<path d="M285.91 307.93h0M285.91 311.69h0" stroke="#333333" stroke-width="3.8" stroke-linecap="round" fill="none"/>
<path d="M285.91 275.24V287.17M285.91 294.36V305.48" stroke="#3c3c3c" stroke-width="0.95" fill="none"/>
<rect x="282.86" y="287.17" width="6.1" height="7.19" fill="#619CFF" stroke="#333333" stroke-width="1"/>
<path d="M282.86 291.09H288.97" stroke="#333333" stroke-width="1.9" fill="none"/>
<path d="M298.12 255.3V268.86M298.12 277.53V290.77" stroke="#3c3c3c" stroke-width="0.95" fill="none"/>
<rect x="295.07" y="268.86" width="6.1" height="8.66" fill="#F8766D" stroke="#333333" stroke-width="1"/>
<path d="M295.07 272.79H301.18" stroke="#333333" stroke-width="1.9" fill="none"/>
<path d="M304.23 256.28h0M304.23 254.97h0M304.23 253.66h0M304.23 253.5h0M304.23 289.13h0M304.23 290.44h0M304.23 291.75h0M304.23 292.07h0" stroke="#333333" stroke-width="3.8" stroke-linecap="round" fill="none"/>
<path d="M304.23 258.08V269.84M304.23 277.53V288.31" stroke="#3c3c3c" stroke-width="0.95" fill="none"/>
<rect x="301.18" y="269.84" width="6.1" height="7.68" fill="#00BA38" stroke="#333333" stroke-width="1"/>
<path d="M301.18 274.09H307.28" stroke="#333333" stroke-width="1.9" fill="none"/>
<path d="M310.33 271.81h0M310.33 270.5h0M310.33 269.19h0M310.33 268.54h0M310.33 294.04h0M310.33 295.34h0M310.33 296.32h0" stroke="#333333" stroke-width="3.8" stroke-linecap="round" fill="none"/>
<path d="M310.33 272.79V280.47M310.33 285.7V293.05" stroke="#3c3c3c" stroke-width="0.95" fill="none"/>
<rect x="307.28" y="280.47" width="6.1" height="5.23" fill="#619CFF" stroke="#333333" stroke-width="1"/>
<path d="M307.28 282.43H313.39" stroke="#333333" stroke-width="1.9" fill="none"/>
<path d="M322.54 263.96h0M322.54 265.27h0M322.54 266.58h0M322.54 267.88h0M322.54 268.86h0M322.54 270.83h0M322.54 272.13h0M322.54 273.44h0M322.54 274.26h0" stroke="#333333" stroke-width="3.8" stroke-linecap="round" fill="none"/>
<path d="M322.54 246.14V252.52M322.54 256.77V262.98" stroke="#3c3c3c" stroke-width="0.95" fill="none"/>
<rect x="319.49" y="252.52" width="6.1" height="4.25" fill="#F8766D" stroke="#333333" stroke-width="1"/>
<path d="M319.49 253.99H325.6" stroke="#333333" stroke-width="1.9" fill="none"/>
<path d="M328.65 263.96h0M328.65 264.94h0M328.65 265.92h0M328.65 266.9h0M328.65 267.88h0M328.65 268.86h0M328.65 270.83h0M328.65 271.81h0" stroke="#333333" stroke-width="3.8" stroke-linecap="round" fill="none"/>
<path d="M328.65 245V252.52M328.65 256.77V262.98" stroke="#3c3c3c" stroke-width="0.95" fill="none"/>
<rect x="325.6" y="252.52" width="6.1" height="4.25" fill="#00BA38" stroke="#333333" stroke-width="1"/>
<path d="M325.6 253.99H331.7" stroke="#333333" stroke-width="1.9" fill="none"/>
<path d="M334.75 270.5h0M334.75 269.19h0M334.75 268.54h0M334.75 286.68h0" stroke="#333333" stroke-width="3.8" stroke-linecap="round" fill="none"/>
<path d="M334.75 271.81V276.55M334.75 280.47V284.88" stroke="#3c3c3c" stroke-width="0.95" fill="none"/>
<rect x="331.7" y="276.55" width="6.1" height="3.92" fill="#619CFF" stroke="#333333" stroke-width="1"/>
<path d="M331.7 277.44H337.81" stroke="#333333" stroke-width="1.9" fill="none"/>
<rect x="191.9" y="236.8" width="151.4" height="179.7" fill="none" stroke="#888" stroke-width="1" rx="0.8"/>
</g>
<text x="206.55" y="427.4" font-size="7.9" text-anchor="middle" fill="#111">50</text>
<text x="230.97" y="427.4" font-size="7.9" text-anchor="middle" fill="#111">100</text>
<text x="255.39" y="427.4" font-size="7.9" text-anchor="middle" fill="#111">250</text>
<text x="279.81" y="427.4" font-size="7.9" text-anchor="middle" fill="#111">500</text>
<text x="304.23" y="427.4" font-size="7.9" text-anchor="middle" fill="#111">1000</text>
<text x="328.65" y="427.4" font-size="7.9" text-anchor="middle" fill="#111">2500</text>
<path d="M206.55 416.5v2.6M230.97 416.5v2.6M255.39 416.5v2.6M279.81 416.5v2.6M304.23 416.5v2.6M328.65 416.5v2.6" stroke="#000" stroke-width="1" fill="none"/>
<g>
<rect x="347.9" y="236.8" width="151.4" height="179.7" fill="#fff"/>
<path d="M347.9 388.02H499.3M347.9 347.16H499.3M347.9 306.29H499.3M347.9 265.43H499.3" stroke="#f7f7f7" stroke-width="0.6" fill="none"/>
<path d="M347.9 408.45H499.3M347.9 367.59H499.3M347.9 326.73H499.3M347.9 285.86H499.3M347.9 245H499.3M362.55 236.8V416.5M386.97 236.8V416.5M411.39 236.8V416.5M435.81 236.8V416.5M460.23 236.8V416.5M484.65 236.8V416.5" stroke="#e8e8e8" stroke-width="0.6" fill="none"/>
<path d="M356.45 406.49h0M356.45 405.18h0M356.45 403.87h0M356.45 403.55h0" stroke="#333333" stroke-width="3.8" stroke-linecap="round" fill="none"/>
<path d="M356.45 408.45V408.45M356.45 408.45V408.45" stroke="#3c3c3c" stroke-width="0.95" fill="none"/>
<rect x="353.39" y="408.45" width="6.1" height="0.01" fill="#F8766D" stroke="#333333" stroke-width="1"/>
<path d="M353.39 408.45H359.5" stroke="#333333" stroke-width="1.9" fill="none"/>
<path d="M362.55 406.49h0M362.55 405.18h0M362.55 403.87h0M362.55 402.57h0M362.55 402.4h0" stroke="#333333" stroke-width="3.8" stroke-linecap="round" fill="none"/>
<path d="M362.55 408.45V408.45M362.55 408.45V408.45" stroke="#3c3c3c" stroke-width="0.95" fill="none"/>
<rect x="359.5" y="408.45" width="6.1" height="0.01" fill="#00BA38" stroke="#333333" stroke-width="1"/>
<path d="M359.5 408.45H365.6" stroke="#333333" stroke-width="1.9" fill="none"/>
<path d="M368.66 406.49h0M368.66 405.18h0M368.66 403.87h0M368.66 402.89h0M368.66 398.15h0" stroke="#333333" stroke-width="3.8" stroke-linecap="round" fill="none"/>
<path d="M368.66 408.45V408.45M368.66 408.45V408.45" stroke="#3c3c3c" stroke-width="0.95" fill="none"/>
<rect x="365.6" y="408.45" width="6.1" height="0.01" fill="#619CFF" stroke="#333333" stroke-width="1"/>
<path d="M365.6 408.45H371.71" stroke="#333333" stroke-width="1.9" fill="none"/>
<path d="M380.87 399.13h0M380.87 398.15h0M380.87 397.17h0M380.87 396.19h0M380.87 395.21h0M380.87 394.23h0M380.87 393.25h0M380.87 392.27h0M380.87 391.29h0M380.87 390.31h0M380.87 389.33h0M380.87 388.35h0M380.87 387.36h0M380.87 386.38h0M380.87 385.4h0M380.87 384.42h0M380.87 383.44h0M380.87 382.46h0M380.87 381.48h0M380.87 380.5h0M380.87 379.52h0M380.87 378.54h0M380.87 377.56h0M380.87 375.6h0M380.87 373.64h0M380.87 371.67h0M380.87 369.71h0M380.87 367.75h0M380.87 364.48h0M380.87 361.21h0M380.87 357.94h0M380.87 357.78h0M380.87 352.06h0M380.87 350.75h0M380.87 349.44h0M380.87 348.14h0M380.87 348.14h0M380.87 344.21h0M380.87 327.87h0M380.87 326.56h0M380.87 325.91h0" stroke="#333333" stroke-width="3.8" stroke-linecap="round" fill="none"/>
<path d="M380.87 400.28V404.85M380.87 408.45V408.45" stroke="#3c3c3c" stroke-width="0.95" fill="none"/>
<rect x="377.81" y="404.85" width="6.1" height="3.6" fill="#F8766D" stroke="#333333" stroke-width="1"/>
<path d="M377.81 408.45H383.92" stroke="#333333" stroke-width="1.9" fill="none"/>
<path d="M386.97 399.13h0M386.97 398.15h0M386.97 397.17h0M386.97 396.19h0M386.97 395.21h0M386.97 394.23h0M386.97 393.25h0M386.97 392.27h0M386.97 391.29h0M386.97 390.31h0M386.97 389.33h0M386.97 388.35h0M386.97 387.36h0M386.97 386.38h0M386.97 385.4h0M386.97 384.42h0M386.97 383.44h0M386.97 381.48h0M386.97 379.52h0M386.97 377.56h0M386.97 375.6h0M386.97 372.33h0M386.97 369.06h0M386.97 368.4h0M386.97 365.46h0M386.97 360.72h0M386.97 355.82h0M386.97 349.12h0M386.97 347.81h0M386.97 347.16h0M386.97 338h0M386.97 331.63h0M386.97 330.32h0M386.97 329.67h0M386.97 321h0" stroke="#333333" stroke-width="3.8" stroke-linecap="round" fill="none"/>
<path d="M386.97 400.28V404.85M386.97 408.45V408.45" stroke="#3c3c3c" stroke-width="0.95" fill="none"/>
<rect x="383.92" y="404.85" width="6.1" height="3.6" fill="#00BA38" stroke="#333333" stroke-width="1"/>
<path d="M383.92 408.45H390.02" stroke="#333333" stroke-width="1.9" fill="none"/>
<path d="M393.08 399.13h0M393.08 398.15h0M393.08 397.17h0M393.08 396.19h0M393.08 395.21h0M393.08 394.23h0M393.08 393.25h0M393.08 392.27h0M393.08 391.29h0M393.08 390.31h0M393.08 389.33h0M393.08 388.35h0M393.08 387.36h0M393.08 386.38h0M393.08 385.4h0M393.08 384.42h0M393.08 383.44h0M393.08 382.46h0M393.08 381.48h0M393.08 380.5h0M393.08 379.52h0M393.08 378.54h0M393.08 376.58h0M393.08 374.62h0M393.08 372.65h0M393.08 370.69h0M393.08 368.73h0M393.08 365.46h0M393.08 362.19h0M393.08 359.74h0M393.08 353.86h0M393.08 347.48h0M393.08 340.29h0M393.08 331.3h0" stroke="#333333" stroke-width="3.8" stroke-linecap="round" fill="none"/>
<path d="M393.08 400.28V404.85M393.08 408.45V408.45" stroke="#3c3c3c" stroke-width="0.95" fill="none"/>
<rect x="390.02" y="404.85" width="6.1" height="3.6" fill="#619CFF" stroke="#333333" stroke-width="1"/>
<path d="M390.02 408.45H396.13" stroke="#333333" stroke-width="1.9" fill="none"/>
<path d="M405.29 337.51h0M405.29 338.49h0M405.29 339.47h0M405.29 340.45h0M405.29 341.44h0M405.29 342.42h0M405.29 343.4h0M405.29 344.38h0M405.29 345.36h0M405.29 346.34h0M405.29 348.3h0M405.29 350.26h0M405.29 353.53h0M405.29 353.86h0M405.29 364.16h0" stroke="#333333" stroke-width="3.8" stroke-linecap="round" fill="none"/>
<path d="M405.29 291.09V307.93M405.29 319.53V336.53" stroke="#3c3c3c" stroke-width="0.95" fill="none"/>
<rect x="402.23" y="307.93" width="6.1" height="11.6" fill="#F8766D" stroke="#333333" stroke-width="1"/>
<path d="M402.23 313.32H408.34" stroke="#333333" stroke-width="1.9" fill="none"/>
<path d="M411.39 337.51h0M411.39 338.49h0M411.39 339.47h0M411.39 340.45h0M411.39 341.44h0M411.39 342.42h0M411.39 343.4h0M411.39 344.38h0M411.39 345.36h0M411.39 346.34h0M411.39 347.32h0M411.39 348.3h0M411.39 350.26h0M411.39 352.22h0M411.39 354.18h0M411.39 357.45h0M411.39 357.78h0M411.39 361.54h0M411.39 362.85h0M411.39 364.16h0M411.39 365.46h0M411.39 380.01h0" stroke="#333333" stroke-width="3.8" stroke-linecap="round" fill="none"/>
<path d="M411.39 291.09V307.93M411.39 319.53V336.53" stroke="#3c3c3c" stroke-width="0.95" fill="none"/>
<rect x="408.34" y="307.93" width="6.1" height="11.6" fill="#00BA38" stroke="#333333" stroke-width="1"/>
<path d="M408.34 313.32H414.44" stroke="#333333" stroke-width="1.9" fill="none"/>
<path d="M417.5 285.7h0M417.5 337.51h0M417.5 338.49h0M417.5 339.47h0M417.5 340.45h0M417.5 341.44h0M417.5 342.42h0M417.5 343.4h0M417.5 344.38h0M417.5 345.36h0M417.5 346.34h0M417.5 348.3h0M417.5 350.26h0M417.5 352.22h0M417.5 354.84h0M417.5 361.54h0" stroke="#333333" stroke-width="3.8" stroke-linecap="round" fill="none"/>
<path d="M417.5 291.09V307.93M417.5 319.53V336.53" stroke="#3c3c3c" stroke-width="0.95" fill="none"/>
<rect x="414.44" y="307.93" width="6.1" height="11.6" fill="#619CFF" stroke="#333333" stroke-width="1"/>
<path d="M414.44 313.32H420.55" stroke="#333333" stroke-width="1.9" fill="none"/>
<path d="M429.7 246.31h0M429.7 313.65h0M429.7 321h0" stroke="#333333" stroke-width="3.8" stroke-linecap="round" fill="none"/>
<path d="M429.7 276.55V290.11M429.7 298.78V312.01" stroke="#3c3c3c" stroke-width="0.95" fill="none"/>
<rect x="426.65" y="290.11" width="6.1" height="8.66" fill="#F8766D" stroke="#333333" stroke-width="1"/>
<path d="M426.65 294.53H432.76" stroke="#333333" stroke-width="1.9" fill="none"/>
<path d="M435.81 279.49h0M435.81 278.18h0M435.81 276.87h0M435.81 275.57h0M435.81 274.58h0M435.81 310.38h0M435.81 311.36h0M435.81 312.34h0M435.81 313.32h0M435.81 314.3h0M435.81 315.28h0M435.81 317.24h0M435.81 319.21h0" stroke="#333333" stroke-width="3.8" stroke-linecap="round" fill="none"/>
<path d="M435.81 280.96V291.09M435.81 298.78V309.56" stroke="#3c3c3c" stroke-width="0.95" fill="none"/>
<rect x="432.76" y="291.09" width="6.1" height="7.68" fill="#00BA38" stroke="#333333" stroke-width="1"/>
<path d="M432.76 294.85H438.86" stroke="#333333" stroke-width="1.9" fill="none"/>
<path d="M441.91 279.16h0M441.91 310.38h0M441.91 311.69h0M441.91 313h0M441.91 314.3h0M441.91 315.12h0" stroke="#333333" stroke-width="3.8" stroke-linecap="round" fill="none"/>
<path d="M441.91 280.96V291.09M441.91 298.78V309.56" stroke="#3c3c3c" stroke-width="0.95" fill="none"/>
<rect x="438.86" y="291.09" width="6.1" height="7.68" fill="#619CFF" stroke="#333333" stroke-width="1"/>
<path d="M438.86 294.85H444.97" stroke="#333333" stroke-width="1.9" fill="none"/>
<path d="M454.12 259.22h0" stroke="#333333" stroke-width="3.8" stroke-linecap="round" fill="none"/>
<path d="M454.12 261.35V273.77M454.12 282.76V295.83" stroke="#3c3c3c" stroke-width="0.95" fill="none"/>
<rect x="451.07" y="273.77" width="6.1" height="8.99" fill="#F8766D" stroke="#333333" stroke-width="1"/>
<path d="M451.07 278.18H457.18" stroke="#333333" stroke-width="1.9" fill="none"/>
<path d="M460.23 264.94h0M460.23 263.63h0M460.23 262.33h0M460.23 261.02h0M460.23 260.2h0M460.23 292.07h0M460.23 293.38h0M460.23 294.69h0M460.23 296h0M460.23 296.32h0" stroke="#333333" stroke-width="3.8" stroke-linecap="round" fill="none"/>
<path d="M460.23 266.25V275.24M460.23 281.45V290.77" stroke="#3c3c3c" stroke-width="0.95" fill="none"/>
<rect x="457.18" y="275.24" width="6.1" height="6.21" fill="#00BA38" stroke="#333333" stroke-width="1"/>
<path d="M457.18 278.51H463.28" stroke="#333333" stroke-width="1.9" fill="none"/>
<path d="M466.33 271.81h0M466.33 270.5h0M466.33 269.19h0M466.33 268.54h0M466.33 294.04h0M466.33 295.34h0M466.33 296.65h0M466.33 297.79h0" stroke="#333333" stroke-width="3.8" stroke-linecap="round" fill="none"/>
<path d="M466.33 272.79V280.47M466.33 285.7V293.05" stroke="#3c3c3c" stroke-width="0.95" fill="none"/>
<rect x="463.28" y="280.47" width="6.1" height="5.23" fill="#619CFF" stroke="#333333" stroke-width="1"/>
<path d="M463.28 283.41H469.39" stroke="#333333" stroke-width="1.9" fill="none"/>
<path d="M478.54 269.84h0M478.54 270.83h0M478.54 271.81h0M478.54 272.79h0M478.54 273.77h0M478.54 275.73h0M478.54 276.55h0" stroke="#333333" stroke-width="3.8" stroke-linecap="round" fill="none"/>
<path d="M478.54 246.14V253.99M478.54 260.53V268.86" stroke="#3c3c3c" stroke-width="0.95" fill="none"/>
<rect x="475.49" y="253.99" width="6.1" height="6.54" fill="#F8766D" stroke="#333333" stroke-width="1"/>
<path d="M475.49 257.26H481.6" stroke="#333333" stroke-width="1.9" fill="none"/>
<path d="M484.65 270.5h0M484.65 271.81h0M484.65 273.11h0M484.65 274.42h0M484.65 274.75h0M484.65 278.18h0" stroke="#333333" stroke-width="3.8" stroke-linecap="round" fill="none"/>
<path d="M484.65 246.14V253.99M484.65 260.53V269.52" stroke="#3c3c3c" stroke-width="0.95" fill="none"/>
<rect x="481.6" y="253.99" width="6.1" height="6.54" fill="#00BA38" stroke="#333333" stroke-width="1"/>
<path d="M481.6 257.26H487.7" stroke="#333333" stroke-width="1.9" fill="none"/>
<path d="M490.75 270.83h0M490.75 269.52h0M490.75 268.21h0M490.75 266.9h0M490.75 266.9h0M490.75 286.68h0" stroke="#333333" stroke-width="3.8" stroke-linecap="round" fill="none"/>
<path d="M490.75 271.81V276.55M490.75 280.47V284.88" stroke="#3c3c3c" stroke-width="0.95" fill="none"/>
<rect x="487.7" y="276.55" width="6.1" height="3.92" fill="#619CFF" stroke="#333333" stroke-width="1"/>
<path d="M487.7 277.44H493.81" stroke="#333333" stroke-width="1.9" fill="none"/>
<rect x="347.9" y="236.8" width="151.4" height="179.7" fill="none" stroke="#888" stroke-width="1" rx="0.8"/>
</g>
<text x="362.55" y="427.4" font-size="7.9" text-anchor="middle" fill="#111">50</text>
<text x="386.97" y="427.4" font-size="7.9" text-anchor="middle" fill="#111">100</text>
<text x="411.39" y="427.4" font-size="7.9" text-anchor="middle" fill="#111">250</text>
<text x="435.81" y="427.4" font-size="7.9" text-anchor="middle" fill="#111">500</text>
<text x="460.23" y="427.4" font-size="7.9" text-anchor="middle" fill="#111">1000</text>
<text x="484.65" y="427.4" font-size="7.9" text-anchor="middle" fill="#111">2500</text>
<path d="M362.55 416.5v2.6M386.97 416.5v2.6M411.39 416.5v2.6M435.81 416.5v2.6M460.23 416.5v2.6M484.65 416.5v2.6" stroke="#000" stroke-width="1" fill="none"/>
<g>
<rect x="503.9" y="236.8" width="151.4" height="179.7" fill="#fff"/>
<path d="M503.9 388.02H655.3M503.9 347.16H655.3M503.9 306.29H655.3M503.9 265.43H655.3" stroke="#f7f7f7" stroke-width="0.6" fill="none"/>
<path d="M503.9 408.45H655.3M503.9 367.59H655.3M503.9 326.73H655.3M503.9 285.86H655.3M503.9 245H655.3M518.55 236.8V416.5M542.97 236.8V416.5M567.39 236.8V416.5M591.81 236.8V416.5M616.23 236.8V416.5M640.65 236.8V416.5" stroke="#e8e8e8" stroke-width="0.6" fill="none"/>
<path d="M512.45 406.49h0M512.45 405.34h0" stroke="#333333" stroke-width="3.8" stroke-linecap="round" fill="none"/>
<path d="M512.45 408.45V408.45M512.45 408.45V408.45" stroke="#3c3c3c" stroke-width="0.95" fill="none"/>
<rect x="509.39" y="408.45" width="6.1" height="0.01" fill="#F8766D" stroke="#333333" stroke-width="1"/>
<path d="M509.39 408.45H515.5" stroke="#333333" stroke-width="1.9" fill="none"/>
<path d="M518.55 406.82h0" stroke="#333333" stroke-width="3.8" stroke-linecap="round" fill="none"/>
<path d="M518.55 408.45V408.45M518.55 408.45V408.45" stroke="#3c3c3c" stroke-width="0.95" fill="none"/>
<rect x="515.5" y="408.45" width="6.1" height="0.01" fill="#00BA38" stroke="#333333" stroke-width="1"/>
<path d="M515.5 408.45H521.6" stroke="#333333" stroke-width="1.9" fill="none"/>
<path d="M524.66 406.49h0M524.66 405.18h0M524.66 403.87h0" stroke="#333333" stroke-width="3.8" stroke-linecap="round" fill="none"/>
<path d="M524.66 408.45V408.45M524.66 408.45V408.45" stroke="#3c3c3c" stroke-width="0.95" fill="none"/>
<rect x="521.6" y="408.45" width="6.1" height="0.01" fill="#619CFF" stroke="#333333" stroke-width="1"/>
<path d="M521.6 408.45H527.71" stroke="#333333" stroke-width="1.9" fill="none"/>
<path d="M536.87 406.49h0M536.87 405.51h0M536.87 404.53h0M536.87 403.55h0M536.87 402.57h0M536.87 401.59h0M536.87 400.6h0M536.87 398.64h0M536.87 396.19h0M536.87 389.33h0" stroke="#333333" stroke-width="3.8" stroke-linecap="round" fill="none"/>
<path d="M536.87 408.45V408.45M536.87 408.45V408.45" stroke="#3c3c3c" stroke-width="0.95" fill="none"/>
<rect x="533.81" y="408.45" width="6.1" height="0.01" fill="#F8766D" stroke="#333333" stroke-width="1"/>
<path d="M533.81 408.45H539.92" stroke="#333333" stroke-width="1.9" fill="none"/>
<path d="M542.97 406.49h0M542.97 405.51h0M542.97 404.53h0M542.97 403.55h0M542.97 402.57h0M542.97 401.59h0M542.97 400.6h0M542.97 399.62h0M542.97 398.64h0M542.97 397.66h0M542.97 395.7h0M542.97 393.74h0M542.97 390.63h0M542.97 383.93h0" stroke="#333333" stroke-width="3.8" stroke-linecap="round" fill="none"/>
<path d="M542.97 408.45V408.45M542.97 408.45V408.45" stroke="#3c3c3c" stroke-width="0.95" fill="none"/>
<rect x="539.92" y="408.45" width="6.1" height="0.01" fill="#00BA38" stroke="#333333" stroke-width="1"/>
<path d="M539.92 408.45H546.02" stroke="#333333" stroke-width="1.9" fill="none"/>
<path d="M549.08 406.49h0M549.08 405.51h0M549.08 404.53h0M549.08 403.55h0M549.08 402.57h0M549.08 401.59h0M549.08 400.6h0M549.08 398.64h0M549.08 396.19h0M549.08 390.8h0" stroke="#333333" stroke-width="3.8" stroke-linecap="round" fill="none"/>
<path d="M549.08 408.45V408.45M549.08 408.45V408.45" stroke="#3c3c3c" stroke-width="0.95" fill="none"/>
<rect x="546.02" y="408.45" width="6.1" height="0.01" fill="#619CFF" stroke="#333333" stroke-width="1"/>
<path d="M546.02 408.45H552.13" stroke="#333333" stroke-width="1.9" fill="none"/>
<path d="M561.29 385.73h0M561.29 386.71h0M561.29 387.69h0M561.29 388.67h0M561.29 389.65h0M561.29 390.63h0M561.29 391.61h0M561.29 392.6h0M561.29 393.58h0M561.29 394.56h0M561.29 395.54h0M561.29 396.52h0M561.29 397.5h0M561.29 399.46h0M561.29 401.42h0M561.29 403.38h0M561.29 406.65h0M561.29 407.8h0" stroke="#333333" stroke-width="3.8" stroke-linecap="round" fill="none"/>
<path d="M561.29 297.47V317.24M561.29 344.7V384.75" stroke="#3c3c3c" stroke-width="0.95" fill="none"/>
<rect x="558.23" y="317.24" width="6.1" height="27.46" fill="#F8766D" stroke="#333333" stroke-width="1"/>
<path d="M558.23 328.85H564.34" stroke="#333333" stroke-width="1.9" fill="none"/>
<path d="M567.39 390.47h0M567.39 391.45h0M567.39 392.43h0M567.39 393.41h0M567.39 394.39h0M567.39 395.37h0M567.39 396.35h0M567.39 397.34h0M567.39 398.32h0M567.39 399.3h0M567.39 401.26h0M567.39 403.22h0M567.39 405.18h0M567.39 407.8h0" stroke="#333333" stroke-width="3.8" stroke-linecap="round" fill="none"/>
<path d="M567.39 296.32V317.24M567.39 345.52V388.67" stroke="#3c3c3c" stroke-width="0.95" fill="none"/>
<rect x="564.34" y="317.24" width="6.1" height="28.28" fill="#00BA38" stroke="#333333" stroke-width="1"/>
<path d="M564.34 328.85H570.44" stroke="#333333" stroke-width="1.9" fill="none"/>
<path d="M573.5 385.57h0M573.5 386.55h0M573.5 387.53h0M573.5 388.51h0M573.5 389.49h0M573.5 390.47h0M573.5 391.45h0M573.5 392.43h0M573.5 393.41h0M573.5 394.39h0M573.5 396.35h0M573.5 398.32h0M573.5 401.59h0M573.5 401.91h0M573.5 407.31h0" stroke="#333333" stroke-width="3.8" stroke-linecap="round" fill="none"/>
<path d="M573.5 298.78V320.02M573.5 345.52V384.75" stroke="#3c3c3c" stroke-width="0.95" fill="none"/>
<rect x="570.44" y="320.02" width="6.1" height="25.5" fill="#619CFF" stroke="#333333" stroke-width="1"/>
<path d="M570.44 330.65H576.55" stroke="#333333" stroke-width="1.9" fill="none"/>
<path d="M585.7 279h0M585.7 316.1h0M585.7 317.41h0M585.7 318.72h0M585.7 320.02h0M585.7 321.33h0M585.7 321.98h0M585.7 328.85h0" stroke="#333333" stroke-width="3.8" stroke-linecap="round" fill="none"/>
<path d="M585.7 280.47V293.38M585.7 302.7V315.28" stroke="#3c3c3c" stroke-width="0.95" fill="none"/>
<rect x="582.65" y="293.38" width="6.1" height="9.32" fill="#F8766D" stroke="#333333" stroke-width="1"/>
<path d="M582.65 298.78H588.76" stroke="#333333" stroke-width="1.9" fill="none"/>
<path d="M591.81 282.43h0M591.81 281.12h0M591.81 279.81h0M591.81 278.51h0M591.81 277.2h0M591.81 276.55h0M591.81 315.28h0M591.81 316.26h0M591.81 317.24h0M591.81 318.23h0M591.81 319.21h0M591.81 321.17h0M591.81 321.98h0M591.81 326.23h0" stroke="#333333" stroke-width="3.8" stroke-linecap="round" fill="none"/>
<path d="M591.81 283.41V294.85M591.81 302.7V314.3" stroke="#3c3c3c" stroke-width="0.95" fill="none"/>
<rect x="588.76" y="294.85" width="6.1" height="7.85" fill="#00BA38" stroke="#333333" stroke-width="1"/>
<path d="M588.76 299.43H594.86" stroke="#333333" stroke-width="1.9" fill="none"/>
<path d="M597.91 316.1h0M597.91 317.08h0M597.91 318.06h0M597.91 319.04h0M597.91 320.02h0M597.91 321.98h0M597.91 323.95h0M597.91 330.65h0M597.91 338h0" stroke="#333333" stroke-width="3.8" stroke-linecap="round" fill="none"/>
<path d="M597.91 283.41V293.38M597.91 302.7V315.28" stroke="#3c3c3c" stroke-width="0.95" fill="none"/>
<rect x="594.86" y="293.38" width="6.1" height="9.32" fill="#619CFF" stroke="#333333" stroke-width="1"/>
<path d="M594.86 299.43H600.97" stroke="#333333" stroke-width="1.9" fill="none"/>
<path d="M610.12 264.45h0M610.12 297.79h0M610.12 299.1h0M610.12 300.41h0M610.12 300.74h0" stroke="#333333" stroke-width="3.8" stroke-linecap="round" fill="none"/>
<path d="M610.12 265.92V277.53M610.12 285.21V296.81" stroke="#3c3c3c" stroke-width="0.95" fill="none"/>
<rect x="607.07" y="277.53" width="6.1" height="7.68" fill="#F8766D" stroke="#333333" stroke-width="1"/>
<path d="M607.07 281.45H613.18" stroke="#333333" stroke-width="1.9" fill="none"/>
<path d="M616.23 262.16h0M616.23 300.74h0M616.23 302.04h0M616.23 303.35h0M616.23 304.01h0" stroke="#333333" stroke-width="3.8" stroke-linecap="round" fill="none"/>
<path d="M616.23 263.8V278.02M616.23 286.68V299.76" stroke="#3c3c3c" stroke-width="0.95" fill="none"/>
<rect x="613.18" y="278.02" width="6.1" height="8.66" fill="#00BA38" stroke="#333333" stroke-width="1"/>
<path d="M613.18 282.43H619.28" stroke="#333333" stroke-width="1.9" fill="none"/>
<path d="M622.33 297.79h0M622.33 299.1h0M622.33 300.41h0M622.33 301.72h0M622.33 301.72h0" stroke="#333333" stroke-width="3.8" stroke-linecap="round" fill="none"/>
<path d="M622.33 272.79V281.45M622.33 288.15V296.81" stroke="#3c3c3c" stroke-width="0.95" fill="none"/>
<rect x="619.28" y="281.45" width="6.1" height="6.7" fill="#619CFF" stroke="#333333" stroke-width="1"/>
<path d="M619.28 284.72H625.39" stroke="#333333" stroke-width="1.9" fill="none"/>
<path d="M634.54 280.47h0" stroke="#333333" stroke-width="3.8" stroke-linecap="round" fill="none"/>
<path d="M634.54 247.62V256.6M634.54 264.45V276.55" stroke="#3c3c3c" stroke-width="0.95" fill="none"/>
<rect x="631.49" y="256.6" width="6.1" height="7.85" fill="#F8766D" stroke="#333333" stroke-width="1"/>
<path d="M631.49 260.69H637.6" stroke="#333333" stroke-width="1.9" fill="none"/>
<path d="M640.65 278.18h0" stroke="#333333" stroke-width="3.8" stroke-linecap="round" fill="none"/>
<path d="M640.65 247.62V256.6M640.65 264.45V277.69" stroke="#3c3c3c" stroke-width="0.95" fill="none"/>
<rect x="637.6" y="256.6" width="6.1" height="7.85" fill="#00BA38" stroke="#333333" stroke-width="1"/>
<path d="M637.6 260.69H643.7" stroke="#333333" stroke-width="1.9" fill="none"/>
<path d="M646.75 270.83h0M646.75 269.52h0M646.75 268.21h0M646.75 267.88h0M646.75 285.86h0M646.75 287.17h0M646.75 288.15h0" stroke="#333333" stroke-width="3.8" stroke-linecap="round" fill="none"/>
<path d="M646.75 271.81V276.55M646.75 280.47V284.88" stroke="#3c3c3c" stroke-width="0.95" fill="none"/>
<rect x="643.7" y="276.55" width="6.1" height="3.92" fill="#619CFF" stroke="#333333" stroke-width="1"/>
<path d="M643.7 277.44H649.81" stroke="#333333" stroke-width="1.9" fill="none"/>
<rect x="503.9" y="236.8" width="151.4" height="179.7" fill="none" stroke="#888" stroke-width="1" rx="0.8"/>
</g>
<text x="518.55" y="427.4" font-size="7.9" text-anchor="middle" fill="#111">50</text>
<text x="542.97" y="427.4" font-size="7.9" text-anchor="middle" fill="#111">100</text>
<text x="567.39" y="427.4" font-size="7.9" text-anchor="middle" fill="#111">250</text>
<text x="591.81" y="427.4" font-size="7.9" text-anchor="middle" fill="#111">500</text>
<text x="616.23" y="427.4" font-size="7.9" text-anchor="middle" fill="#111">1000</text>
<text x="640.65" y="427.4" font-size="7.9" text-anchor="middle" fill="#111">2500</text>
<path d="M518.55 416.5v2.6M542.97 416.5v2.6M567.39 416.5v2.6M591.81 416.5v2.6M616.23 416.5v2.6M640.65 416.5v2.6" stroke="#000" stroke-width="1" fill="none"/>
<g>
<rect x="659.9" y="236.8" width="150.6" height="179.7" fill="#fff"/>
<path d="M659.9 388.02H810.5M659.9 347.16H810.5M659.9 306.29H810.5M659.9 265.43H810.5" stroke="#f7f7f7" stroke-width="0.6" fill="none"/>
<path d="M659.9 408.45H810.5M659.9 367.59H810.5M659.9 326.73H810.5M659.9 285.86H810.5M659.9 245H810.5M674.55 236.8V416.5M698.97 236.8V416.5M723.39 236.8V416.5M747.81 236.8V416.5M772.23 236.8V416.5M796.65 236.8V416.5" stroke="#e8e8e8" stroke-width="0.6" fill="none"/>
<path d="M668.45 406.49h0" stroke="#333333" stroke-width="3.8" stroke-linecap="round" fill="none"/>
<path d="M668.45 408.45V408.45M668.45 408.45V408.45" stroke="#3c3c3c" stroke-width="0.95" fill="none"/>
<rect x="665.39" y="408.45" width="6.1" height="0.01" fill="#F8766D" stroke="#333333" stroke-width="1"/>
<path d="M665.39 408.45H671.5" stroke="#333333" stroke-width="1.9" fill="none"/>
<path d="M674.55 406.49h0" stroke="#333333" stroke-width="3.8" stroke-linecap="round" fill="none"/>
<path d="M674.55 408.45V408.45M674.55 408.45V408.45" stroke="#3c3c3c" stroke-width="0.95" fill="none"/>
<rect x="671.5" y="408.45" width="6.1" height="0.01" fill="#00BA38" stroke="#333333" stroke-width="1"/>
<path d="M671.5 408.45H677.6" stroke="#333333" stroke-width="1.9" fill="none"/>
<path d="M680.66 406.49h0" stroke="#333333" stroke-width="3.8" stroke-linecap="round" fill="none"/>
<path d="M680.66 408.45V408.45M680.66 408.45V408.45" stroke="#3c3c3c" stroke-width="0.95" fill="none"/>
<rect x="677.6" y="408.45" width="6.1" height="0.01" fill="#619CFF" stroke="#333333" stroke-width="1"/>
<path d="M677.6 408.45H683.71" stroke="#333333" stroke-width="1.9" fill="none"/>
<path d="M692.87 406.49h0M692.87 405.18h0M692.87 403.87h0M692.87 402.57h0M692.87 401.59h0" stroke="#333333" stroke-width="3.8" stroke-linecap="round" fill="none"/>
<path d="M692.87 408.45V408.45M692.87 408.45V408.45" stroke="#3c3c3c" stroke-width="0.95" fill="none"/>
<rect x="689.81" y="408.45" width="6.1" height="0.01" fill="#F8766D" stroke="#333333" stroke-width="1"/>
<path d="M689.81 408.45H695.92" stroke="#333333" stroke-width="1.9" fill="none"/>
<path d="M698.97 406.49h0M698.97 405.51h0M698.97 404.53h0M698.97 403.55h0M698.97 402.57h0M698.97 400.6h0M698.97 398.97h0" stroke="#333333" stroke-width="3.8" stroke-linecap="round" fill="none"/>
<path d="M698.97 408.45V408.45M698.97 408.45V408.45" stroke="#3c3c3c" stroke-width="0.95" fill="none"/>
<rect x="695.92" y="408.45" width="6.1" height="0.01" fill="#00BA38" stroke="#333333" stroke-width="1"/>
<path d="M695.92 408.45H702.02" stroke="#333333" stroke-width="1.9" fill="none"/>
<path d="M705.08 406.49h0M705.08 405.18h0M705.08 403.87h0M705.08 402.57h0M705.08 401.91h0M705.08 397.17h0" stroke="#333333" stroke-width="3.8" stroke-linecap="round" fill="none"/>
<path d="M705.08 408.45V408.45M705.08 408.45V408.45" stroke="#3c3c3c" stroke-width="0.95" fill="none"/>
<rect x="702.02" y="408.45" width="6.1" height="0.01" fill="#619CFF" stroke="#333333" stroke-width="1"/>
<path d="M702.02 408.45H708.13" stroke="#333333" stroke-width="1.9" fill="none"/>
<path d="M717.29 301.39V348.63M717.29 403.22V408.45" stroke="#3c3c3c" stroke-width="0.95" fill="none"/>
<rect x="714.23" y="348.63" width="6.1" height="54.59" fill="#F8766D" stroke="#333333" stroke-width="1"/>
<path d="M714.23 381.32H720.34" stroke="#333333" stroke-width="1.9" fill="none"/>
<path d="M723.39 302.7V352.88M723.39 401.59V408.45" stroke="#3c3c3c" stroke-width="0.95" fill="none"/>
<rect x="720.34" y="352.88" width="6.1" height="48.71" fill="#00BA38" stroke="#333333" stroke-width="1"/>
<path d="M720.34 382.3H726.44" stroke="#333333" stroke-width="1.9" fill="none"/>
<path d="M729.5 304.01V350.1M729.5 400.93V408.45" stroke="#3c3c3c" stroke-width="0.95" fill="none"/>
<rect x="726.44" y="350.1" width="6.1" height="50.83" fill="#619CFF" stroke="#333333" stroke-width="1"/>
<path d="M726.44 380.01H732.55" stroke="#333333" stroke-width="1.9" fill="none"/>
<path d="M741.7 280.47h0M741.7 323.95h0M741.7 324.93h0M741.7 325.91h0M741.7 326.89h0M741.7 327.87h0M741.7 328.85h0M741.7 330.81h0M741.7 332.61h0M741.7 338h0M741.7 347.48h0" stroke="#333333" stroke-width="3.8" stroke-linecap="round" fill="none"/>
<path d="M741.7 282.43V297.47M741.7 307.44V322.97" stroke="#3c3c3c" stroke-width="0.95" fill="none"/>
<rect x="738.65" y="297.47" width="6.1" height="9.97" fill="#F8766D" stroke="#333333" stroke-width="1"/>
<path d="M738.65 302.7H744.76" stroke="#333333" stroke-width="1.9" fill="none"/>
<path d="M747.81 282.76h0M747.81 321.98h0M747.81 322.97h0M747.81 323.95h0M747.81 324.93h0M747.81 325.91h0M747.81 327.87h0M747.81 329.67h0M747.81 336.86h0M747.81 344.7h0" stroke="#333333" stroke-width="3.8" stroke-linecap="round" fill="none"/>
<path d="M747.81 284.23V297.47M747.81 306.46V321" stroke="#3c3c3c" stroke-width="0.95" fill="none"/>
<rect x="744.76" y="297.47" width="6.1" height="8.99" fill="#00BA38" stroke="#333333" stroke-width="1"/>
<path d="M744.76 302.7H750.86" stroke="#333333" stroke-width="1.9" fill="none"/>
<path d="M753.91 280.47h0M753.91 323.95h0M753.91 324.93h0M753.91 325.91h0M753.91 326.89h0M753.91 327.87h0M753.91 329.83h0M753.91 331.63h0M753.91 338h0" stroke="#333333" stroke-width="3.8" stroke-linecap="round" fill="none"/>
<path d="M753.91 282.43V297.47M753.91 307.44V322.97" stroke="#3c3c3c" stroke-width="0.95" fill="none"/>
<rect x="750.86" y="297.47" width="6.1" height="9.97" fill="#619CFF" stroke="#333333" stroke-width="1"/>
<path d="M750.86 303.19H756.97" stroke="#333333" stroke-width="1.9" fill="none"/>
<path d="M766.12 306.46h0" stroke="#333333" stroke-width="3.8" stroke-linecap="round" fill="none"/>
<path d="M766.12 267.39V280.47M766.12 289.62V300.74" stroke="#3c3c3c" stroke-width="0.95" fill="none"/>
<rect x="763.07" y="280.47" width="6.1" height="9.15" fill="#F8766D" stroke="#333333" stroke-width="1"/>
<path d="M763.07 284.72H769.18" stroke="#333333" stroke-width="1.9" fill="none"/>
<path d="M772.23 265.92h0M772.23 307.44h0" stroke="#333333" stroke-width="3.8" stroke-linecap="round" fill="none"/>
<path d="M772.23 267.88V280.47M772.23 289.62V301.72" stroke="#3c3c3c" stroke-width="0.95" fill="none"/>
<rect x="769.18" y="280.47" width="6.1" height="9.15" fill="#00BA38" stroke="#333333" stroke-width="1"/>
<path d="M769.18 284.72H775.28" stroke="#333333" stroke-width="1.9" fill="none"/>
<path d="M778.33 272.79h0M778.33 299.76h0M778.33 301.06h0M778.33 302.37h0M778.33 303.68h0M778.33 304.66h0" stroke="#333333" stroke-width="3.8" stroke-linecap="round" fill="none"/>
<path d="M778.33 274.42V282.92M778.33 289.62V299.76" stroke="#3c3c3c" stroke-width="0.95" fill="none"/>
<rect x="775.28" y="282.92" width="6.1" height="6.7" fill="#619CFF" stroke="#333333" stroke-width="1"/>
<path d="M775.28 286.19H781.39" stroke="#333333" stroke-width="1.9" fill="none"/>
<path d="M790.54 248.92V259.22M790.54 268.54V281.45" stroke="#3c3c3c" stroke-width="0.95" fill="none"/>
<rect x="787.49" y="259.22" width="6.1" height="9.32" fill="#F8766D" stroke="#333333" stroke-width="1"/>
<path d="M787.49 264.12H793.6" stroke="#333333" stroke-width="1.9" fill="none"/>
<path d="M796.65 282.43h0M796.65 283.74h0M796.65 284.72h0" stroke="#333333" stroke-width="3.8" stroke-linecap="round" fill="none"/>
<path d="M796.65 250.56V259.22M796.65 268.54V280.47" stroke="#3c3c3c" stroke-width="0.95" fill="none"/>
<rect x="793.6" y="259.22" width="6.1" height="9.32" fill="#00BA38" stroke="#333333" stroke-width="1"/>
<path d="M793.6 263.14H799.7" stroke="#333333" stroke-width="1.9" fill="none"/>
<path d="M802.75 285.86h0M802.75 287.17h0M802.75 288.48h0M802.75 289.79h0M802.75 290.11h0" stroke="#333333" stroke-width="3.8" stroke-linecap="round" fill="none"/>
<path d="M802.75 271.32V276.55M802.75 280.47V284.88" stroke="#3c3c3c" stroke-width="0.95" fill="none"/>
<rect x="799.7" y="276.55" width="6.1" height="3.92" fill="#619CFF" stroke="#333333" stroke-width="1"/>
<path d="M799.7 277.44H805.81" stroke="#333333" stroke-width="1.9" fill="none"/>
<rect x="659.9" y="236.8" width="150.6" height="179.7" fill="none" stroke="#888" stroke-width="1" rx="0.8"/>
</g>
<text x="674.55" y="427.4" font-size="7.9" text-anchor="middle" fill="#111">50</text>
<text x="698.97" y="427.4" font-size="7.9" text-anchor="middle" fill="#111">100</text>
<text x="723.39" y="427.4" font-size="7.9" text-anchor="middle" fill="#111">250</text>
<text x="747.81" y="427.4" font-size="7.9" text-anchor="middle" fill="#111">500</text>
<text x="772.23" y="427.4" font-size="7.9" text-anchor="middle" fill="#111">1000</text>
<text x="796.65" y="427.4" font-size="7.9" text-anchor="middle" fill="#111">2500</text>
<path d="M674.55 416.5v2.6M698.97 416.5v2.6M723.39 416.5v2.6M747.81 416.5v2.6M772.23 416.5v2.6M796.65 416.5v2.6" stroke="#000" stroke-width="1" fill="none"/>
<text x="32.0" y="411.25" font-size="7.9" text-anchor="end" fill="#111">0.00</text>
<text x="32.0" y="370.39" font-size="7.9" text-anchor="end" fill="#111">0.25</text>
<text x="32.0" y="329.53" font-size="7.9" text-anchor="end" fill="#111">0.50</text>
<text x="32.0" y="288.66" font-size="7.9" text-anchor="end" fill="#111">0.75</text>
<text x="32.0" y="247.8" font-size="7.9" text-anchor="end" fill="#111">1.00</text>
<path d="M35.9 408.45h-2.8M35.9 367.59h-2.8M35.9 326.73h-2.8M35.9 285.86h-2.8M35.9 245h-2.8" stroke="#000" stroke-width="1" fill="none"/>
<text x="423.6" y="436.6" font-size="9" text-anchor="middle" fill="#000">Sample size</text>
<text transform="translate(13.2 234.43) rotate(-90)" font-size="9" text-anchor="middle" fill="#000">Sensitivity</text>
</svg>
</body></html>
